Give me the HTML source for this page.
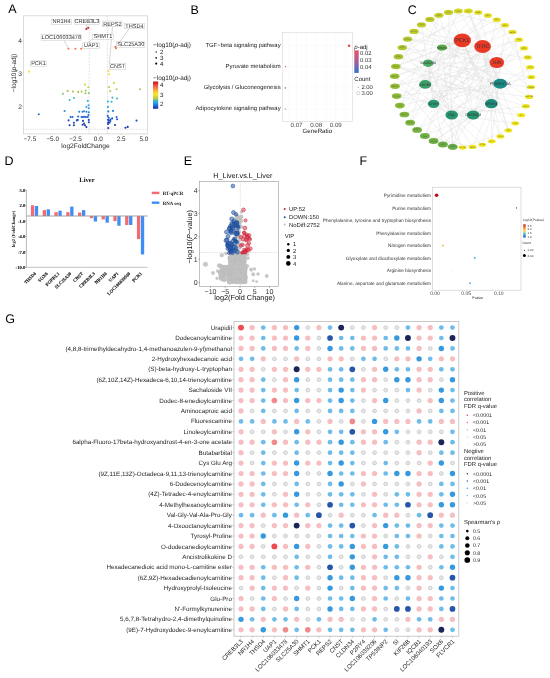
<!DOCTYPE html>
<html><head><meta charset="utf-8"><title>Figure</title>
<style>
html,body{margin:0;padding:0;background:#fff;width:550px;height:678px;overflow:hidden;}
svg{display:block;}
text{font-family:"Liberation Sans",Arial,sans-serif;text-rendering:geometricPrecision;}
</style></head><body>
<svg width="550" height="678" viewBox="0 0 550 678">
<rect width="550" height="678" fill="#fff"/>
<text x="8.30" y="13.20" font-size="12.5">A</text>
<text x="190.50" y="14.00" font-size="12.5">B</text>
<text x="407.80" y="13.60" font-size="12.5">C</text>
<text x="4.60" y="164.80" font-size="12.5">D</text>
<text x="183.80" y="164.80" font-size="12.5">E</text>
<text x="359.60" y="164.50" font-size="12.5">F</text>
<text x="5.30" y="322.80" font-size="12.5">G</text>
<rect x="23.5" y="15.8" width="124.0" height="118.10000000000001" fill="#fff" stroke="#d4d4d4" stroke-width="0.8"/>
<line x1="89.18" y1="15.8" x2="89.18" y2="133.9" stroke="#aaa" stroke-width="0.5" stroke-dasharray="1,1.3"/>
<line x1="107.42" y1="15.8" x2="107.42" y2="133.9" stroke="#aaa" stroke-width="0.5" stroke-dasharray="1,1.3"/>
<line x1="23.5" y1="129.26" x2="147.5" y2="129.26" stroke="#aaa" stroke-width="0.5" stroke-dasharray="1,1.3"/>
<text x="21.90" y="108.70" font-size="6.6" text-anchor="end" fill="#333">2</text>
<line x1="22.2" y1="106.40" x2="23.5" y2="106.40" stroke="#bbb" stroke-width="0.5"/>
<text x="21.90" y="76.00" font-size="6.6" text-anchor="end" fill="#333">3</text>
<line x1="22.2" y1="73.70" x2="23.5" y2="73.70" stroke="#bbb" stroke-width="0.5"/>
<text x="21.90" y="43.30" font-size="6.6" text-anchor="end" fill="#333">4</text>
<line x1="22.2" y1="41.00" x2="23.5" y2="41.00" stroke="#bbb" stroke-width="0.5"/>
<text x="29.90" y="140.70" font-size="6.4" text-anchor="middle" fill="#333">−7.5</text>
<line x1="29.90" y1="133.9" x2="29.90" y2="135.1" stroke="#bbb" stroke-width="0.5"/>
<text x="52.70" y="140.70" font-size="6.4" text-anchor="middle" fill="#333">−5.0</text>
<line x1="52.70" y1="133.9" x2="52.70" y2="135.1" stroke="#bbb" stroke-width="0.5"/>
<text x="75.50" y="140.70" font-size="6.4" text-anchor="middle" fill="#333">−2.5</text>
<line x1="75.50" y1="133.9" x2="75.50" y2="135.1" stroke="#bbb" stroke-width="0.5"/>
<text x="98.30" y="140.70" font-size="6.4" text-anchor="middle" fill="#333">0.0</text>
<line x1="98.30" y1="133.9" x2="98.30" y2="135.1" stroke="#bbb" stroke-width="0.5"/>
<text x="121.10" y="140.70" font-size="6.4" text-anchor="middle" fill="#333">2.5</text>
<line x1="121.10" y1="133.9" x2="121.10" y2="135.1" stroke="#bbb" stroke-width="0.5"/>
<text x="143.90" y="140.70" font-size="6.4" text-anchor="middle" fill="#333">5.0</text>
<line x1="143.90" y1="133.9" x2="143.90" y2="135.1" stroke="#bbb" stroke-width="0.5"/>
<text x="85.50" y="148.20" font-size="6.6" text-anchor="middle" fill="#222">log2FoldChange</text>
<text x="0.00" y="0.00" font-size="6.5" text-anchor="middle" fill="#222" transform="translate(16.0,73.0) rotate(-90)">−log10(<tspan font-style="italic">p</tspan>-adj)</text>
<circle cx="85.0" cy="84.6" r="1.05" fill="#cbd43f"/>
<circle cx="88.3" cy="87.3" r="1.05" fill="#bdcf45"/>
<circle cx="67.7" cy="90.9" r="1.05" fill="#acc94e"/>
<circle cx="73.0" cy="91.6" r="1.05" fill="#a8c850"/>
<circle cx="78.2" cy="91.9" r="1.05" fill="#a4c754"/>
<circle cx="81.6" cy="91.6" r="1.05" fill="#a8c850"/>
<circle cx="85.7" cy="90.6" r="1.05" fill="#adca4d"/>
<circle cx="85.4" cy="93.2" r="1.05" fill="#8dc36e"/>
<circle cx="88.8" cy="93.0" r="1.05" fill="#90c46a"/>
<circle cx="62.9" cy="93.8" r="1.05" fill="#82c179"/>
<circle cx="69.6" cy="100.0" r="1.05" fill="#3ab2d1"/>
<circle cx="73.9" cy="98.0" r="1.05" fill="#47b6be"/>
<circle cx="87.8" cy="100.9" r="1.05" fill="#34b1da"/>
<circle cx="88.6" cy="105.3" r="1.05" fill="#2ba2e2"/>
<circle cx="86.4" cy="107.0" r="1.05" fill="#299ce3"/>
<circle cx="88.8" cy="108.2" r="1.05" fill="#2897e4"/>
<circle cx="64.6" cy="111.0" r="1.05" fill="#2486df"/>
<circle cx="79.2" cy="111.7" r="1.05" fill="#2482dd"/>
<circle cx="82.6" cy="111.7" r="1.05" fill="#2482dd"/>
<circle cx="84.0" cy="111.3" r="1.05" fill="#2484de"/>
<circle cx="86.4" cy="111.7" r="1.05" fill="#2482dd"/>
<circle cx="88.8" cy="112.2" r="1.05" fill="#237fdc"/>
<circle cx="70.6" cy="117.0" r="1.05" fill="#2061cf"/>
<circle cx="72.5" cy="117.0" r="1.05" fill="#2061cf"/>
<circle cx="78.2" cy="116.5" r="1.05" fill="#2064d1"/>
<circle cx="81.6" cy="117.0" r="1.05" fill="#2061cf"/>
<circle cx="83.0" cy="117.0" r="1.05" fill="#2061cf"/>
<circle cx="84.5" cy="116.8" r="1.05" fill="#2062d0"/>
<circle cx="86.0" cy="117.0" r="1.05" fill="#2061cf"/>
<circle cx="87.8" cy="117.0" r="1.05" fill="#2061cf"/>
<circle cx="68.6" cy="120.4" r="1.05" fill="#204cc3"/>
<circle cx="76.8" cy="120.4" r="1.05" fill="#204cc3"/>
<circle cx="77.8" cy="119.9" r="1.05" fill="#204fc4"/>
<circle cx="83.0" cy="120.9" r="1.05" fill="#2049c1"/>
<circle cx="88.8" cy="119.9" r="1.05" fill="#204fc4"/>
<circle cx="88.8" cy="122.3" r="1.05" fill="#2044ba"/>
<circle cx="73.9" cy="122.8" r="1.05" fill="#2042b8"/>
<circle cx="69.6" cy="125.2" r="1.05" fill="#2039ac"/>
<circle cx="73.9" cy="125.2" r="1.05" fill="#2039ac"/>
<circle cx="82.6" cy="124.7" r="1.05" fill="#203bae"/>
<circle cx="85.0" cy="125.2" r="1.05" fill="#2039ac"/>
<circle cx="86.4" cy="127.1" r="1.05" fill="#2032a3"/>
<circle cx="84.0" cy="123.5" r="1.05" fill="#203fb4"/>
<circle cx="88.5" cy="115.0" r="1.05" fill="#206dd6"/>
<circle cx="38.8" cy="114.3" r="1.05" fill="#2072d9"/>
<circle cx="108.3" cy="71.3" r="1.05" fill="#f8de2a"/>
<circle cx="109.1" cy="74.2" r="1.05" fill="#f6e729"/>
<circle cx="113.8" cy="82.9" r="1.05" fill="#d3d63b"/>
<circle cx="109.1" cy="87.1" r="1.05" fill="#becf45"/>
<circle cx="116.6" cy="89.3" r="1.05" fill="#b4cc4a"/>
<circle cx="110.2" cy="91.0" r="1.05" fill="#abc94e"/>
<circle cx="140.0" cy="89.3" r="1.05" fill="#b4cc4a"/>
<circle cx="112.4" cy="97.6" r="1.05" fill="#49b6ba"/>
<circle cx="117.1" cy="98.5" r="1.05" fill="#44b5c3"/>
<circle cx="108.0" cy="101.5" r="1.05" fill="#30b0e0"/>
<circle cx="111.6" cy="101.8" r="1.05" fill="#30afe0"/>
<circle cx="108.0" cy="107.0" r="1.05" fill="#299ce3"/>
<circle cx="108.3" cy="111.4" r="1.05" fill="#2483de"/>
<circle cx="113.0" cy="110.9" r="1.05" fill="#2486df"/>
<circle cx="107.7" cy="115.9" r="1.05" fill="#2068d3"/>
<circle cx="116.6" cy="117.0" r="1.05" fill="#2061cf"/>
<circle cx="117.1" cy="119.2" r="1.05" fill="#2054c7"/>
<circle cx="112.2" cy="118.4" r="1.05" fill="#2059ca"/>
<circle cx="108.0" cy="119.8" r="1.05" fill="#2050c5"/>
<circle cx="109.0" cy="120.5" r="1.05" fill="#204cc2"/>
<circle cx="110.3" cy="121.0" r="1.05" fill="#2049c0"/>
<circle cx="108.2" cy="122.2" r="1.05" fill="#2044bb"/>
<circle cx="109.5" cy="122.8" r="1.05" fill="#2042b8"/>
<circle cx="108.0" cy="124.0" r="1.05" fill="#203db2"/>
<circle cx="110.5" cy="119.5" r="1.05" fill="#2052c6"/>
<circle cx="108.8" cy="117.8" r="1.05" fill="#205ccc"/>
<circle cx="136.5" cy="120.6" r="1.05" fill="#204bc2"/>
<circle cx="115.0" cy="125.0" r="1.05" fill="#203aad"/>
<circle cx="125.4" cy="127.7" r="1.05" fill="#2030a0"/>
<circle cx="127.7" cy="126.9" r="1.05" fill="#2033a4"/>
<circle cx="108.3" cy="128.0" r="1.05" fill="#2030a0"/>
<circle cx="68.4" cy="48.8" r="1.05" fill="#f47649"/>
<circle cx="75.4" cy="48.8" r="1.05" fill="#f47649"/>
<circle cx="81.1" cy="48.8" r="1.05" fill="#f47649"/>
<circle cx="86.4" cy="29.1" r="1.05" fill="#c61e22"/>
<circle cx="88.2" cy="27.8" r="1.05" fill="#c21a21"/>
<circle cx="115.4" cy="46.9" r="1.05" fill="#f26d4c"/>
<circle cx="116.0" cy="48.2" r="1.05" fill="#f3734a"/>
<circle cx="29.0" cy="71.6" r="1.05" fill="#f8df2a"/>
<line x1="64" y1="40.4" x2="68.4" y2="48.3" stroke="#888" stroke-width="0.35"/>
<line x1="86.5" y1="24.3" x2="86.6" y2="28.5" stroke="#888" stroke-width="0.35"/>
<line x1="92.7" y1="38.5" x2="82" y2="48.3" stroke="#888" stroke-width="0.35"/>
<line x1="112.5" y1="26.8" x2="109.4" y2="63.5" stroke="#888" stroke-width="0.35"/>
<line x1="129" y1="28.8" x2="116.5" y2="46.5" stroke="#888" stroke-width="0.35"/>
<line x1="60" y1="24.3" x2="60" y2="24.3" stroke="#888" stroke-width="0.35"/>
<rect x="51.6" y="19.2" width="19.90" height="5.10" fill="#fff" fill-opacity="0.85" stroke="#bbb" stroke-width="0.4"/>
<text x="61.55" y="23.20" font-size="5.6" text-anchor="middle" fill="#333">NR1H4</text>
<rect x="74.1" y="19.2" width="25.60" height="5.10" fill="#fff" fill-opacity="0.85" stroke="#bbb" stroke-width="0.4"/>
<text x="86.90" y="23.20" font-size="5.6" text-anchor="middle" fill="#333">CREB3L3</text>
<rect x="41.0" y="34.8" width="40.70" height="5.60" fill="#fff" fill-opacity="0.85" stroke="#bbb" stroke-width="0.4"/>
<text x="61.35" y="39.30" font-size="5.6" text-anchor="middle" fill="#333">LOC106033478</text>
<rect x="30.2" y="60.9" width="16.50" height="5.50" fill="#fff" fill-opacity="0.85" stroke="#bbb" stroke-width="0.4"/>
<text x="38.45" y="65.30" font-size="5.6" text-anchor="middle" fill="#333">PCK1</text>
<rect x="102.7" y="21.0" width="19.30" height="5.80" fill="#fff" fill-opacity="0.85" stroke="#bbb" stroke-width="0.4"/>
<text x="112.35" y="25.70" font-size="5.6" text-anchor="middle" fill="#333">REPS2</text>
<rect x="124.5" y="23.4" width="19.80" height="5.40" fill="#fff" fill-opacity="0.85" stroke="#bbb" stroke-width="0.4"/>
<text x="134.40" y="27.70" font-size="5.6" text-anchor="middle" fill="#333">THSD4</text>
<rect x="92.7" y="34.2" width="20.60" height="5.30" fill="#fff" fill-opacity="0.85" stroke="#bbb" stroke-width="0.4"/>
<text x="103.00" y="38.40" font-size="5.6" text-anchor="middle" fill="#333">SHMT1</text>
<rect x="82.8" y="42.8" width="16.90" height="5.40" fill="#fff" fill-opacity="0.85" stroke="#bbb" stroke-width="0.4"/>
<text x="91.25" y="47.10" font-size="5.6" text-anchor="middle" fill="#333">UAP1</text>
<rect x="116.7" y="41.8" width="28.20" height="5.70" fill="#fff" fill-opacity="0.85" stroke="#bbb" stroke-width="0.4"/>
<text x="130.80" y="46.40" font-size="5.6" text-anchor="middle" fill="#333">SLC25A30</text>
<rect x="109.5" y="63.5" width="16.30" height="5.70" fill="#fff" fill-opacity="0.85" stroke="#bbb" stroke-width="0.4"/>
<text x="117.65" y="68.10" font-size="5.6" text-anchor="middle" fill="#333">CNST</text>
<text x="153.00" y="46.60" font-size="6.4" fill="#222">−log10(<tspan font-style="italic">p</tspan>-adj)</text>
<circle cx="156.2" cy="52.0" r="0.65" fill="#000"/>
<text x="160.00" y="54.10" font-size="6.2" fill="#222">2</text>
<circle cx="156.2" cy="57.8" r="0.85" fill="#000"/>
<text x="160.00" y="59.90" font-size="6.2" fill="#222">3</text>
<circle cx="156.2" cy="63.6" r="1.05" fill="#000"/>
<text x="160.00" y="65.70" font-size="6.2" fill="#222">4</text>
<text x="153.00" y="79.60" font-size="6.4" fill="#222">−log10(<tspan font-style="italic">p</tspan>-adj)</text>
<defs><linearGradient id="gA" x1="0" y1="1" x2="0" y2="0"><stop offset="0.000" stop-color="#2030a0"/><stop offset="0.065" stop-color="#2048c0"/><stop offset="0.130" stop-color="#2070d8"/><stop offset="0.195" stop-color="#2898e4"/><stop offset="0.261" stop-color="#30b0e0"/><stop offset="0.309" stop-color="#50b8b0"/><stop offset="0.358" stop-color="#a8c850"/><stop offset="0.456" stop-color="#d8d838"/><stop offset="0.537" stop-color="#f8e828"/><stop offset="0.635" stop-color="#f8c030"/><stop offset="0.733" stop-color="#f89040"/><stop offset="0.831" stop-color="#f06050"/><stop offset="0.928" stop-color="#d83028"/><stop offset="1.000" stop-color="#c01820"/></linearGradient><linearGradient id="gB" x1="0" y1="0" x2="0" y2="1"><stop offset="0" stop-color="#ec5064"/><stop offset="0.5" stop-color="#a4609a"/><stop offset="1" stop-color="#2f74d0"/></linearGradient><linearGradient id="gF" x1="0" y1="0" x2="0" y2="1"><stop offset="0" stop-color="#d02020"/><stop offset="0.3" stop-color="#f89030"/><stop offset="0.5" stop-color="#f8e040"/><stop offset="0.75" stop-color="#40b8e8"/><stop offset="1" stop-color="#2040b0"/></linearGradient></defs>
<rect x="153.0" y="81.5" width="5.2" height="27.3" fill="url(#gA)"/>
<text x="160.00" y="87.40" font-size="6.2" fill="#222">4</text>
<text x="160.00" y="96.60" font-size="6.2" fill="#222">3</text>
<text x="160.00" y="105.70" font-size="6.2" fill="#222">2</text>
<rect x="282.5" y="32.6" width="70.0" height="88.80000000000001" fill="#fff" stroke="#d8d8d8" stroke-width="0.6"/>
<line x1="296.5" y1="32.6" x2="296.5" y2="121.4" stroke="#f2f2f2" stroke-width="0.4"/>
<line x1="316.2" y1="32.6" x2="316.2" y2="121.4" stroke="#f2f2f2" stroke-width="0.4"/>
<line x1="335.8" y1="32.6" x2="335.8" y2="121.4" stroke="#f2f2f2" stroke-width="0.4"/>
<line x1="289.2" y1="32.6" x2="289.2" y2="121.4" stroke="#f2f2f2" stroke-width="0.4"/>
<line x1="306.4" y1="32.6" x2="306.4" y2="121.4" stroke="#f2f2f2" stroke-width="0.4"/>
<line x1="326" y1="32.6" x2="326" y2="121.4" stroke="#f2f2f2" stroke-width="0.4"/>
<line x1="345.6" y1="32.6" x2="345.6" y2="121.4" stroke="#f2f2f2" stroke-width="0.4"/>
<line x1="282.5" y1="45.6" x2="352.5" y2="45.6" stroke="#f2f2f2" stroke-width="0.4"/>
<text x="280.60" y="46.60" font-size="5.9" text-anchor="end" fill="#1a1a1a">TGF−beta signaling pathway</text>
<line x1="282.5" y1="66.6" x2="352.5" y2="66.6" stroke="#f2f2f2" stroke-width="0.4"/>
<text x="280.60" y="67.60" font-size="5.9" text-anchor="end" fill="#1a1a1a">Pyruvate metabolism</text>
<line x1="282.5" y1="87.9" x2="352.5" y2="87.9" stroke="#f2f2f2" stroke-width="0.4"/>
<text x="280.60" y="88.90" font-size="5.9" text-anchor="end" fill="#1a1a1a">Glycolysis / Gluconeogenesis</text>
<line x1="282.5" y1="109.0" x2="352.5" y2="109.0" stroke="#f2f2f2" stroke-width="0.4"/>
<text x="280.60" y="110.00" font-size="5.9" text-anchor="end" fill="#1a1a1a">Adipocytokine signaling pathway</text>
<circle cx="349.0" cy="45.8" r="1.25" fill="#e2454f"/>
<circle cx="285.5" cy="66.6" r="0.6" fill="#d04050"/>
<circle cx="285.3" cy="87.9" r="0.6" fill="#555"/>
<circle cx="285.3" cy="109.0" r="0.6" fill="#3a70c8"/>
<text x="296.50" y="127.30" font-size="6.2" text-anchor="middle" fill="#4d4d4d">0.07</text>
<text x="316.20" y="127.30" font-size="6.2" text-anchor="middle" fill="#4d4d4d">0.08</text>
<text x="335.80" y="127.30" font-size="6.2" text-anchor="middle" fill="#4d4d4d">0.09</text>
<text x="317.30" y="133.40" font-size="6.2" text-anchor="middle" fill="#222">GeneRatio</text>
<text x="354.30" y="48.60" font-size="6.0" fill="#222"><tspan font-style="italic">p</tspan>-adj</text>
<rect x="354.3" y="50.4" width="4.4" height="22.5" fill="url(#gB)"/>
<text x="360.00" y="55.30" font-size="5.9" fill="#333">0.02</text>
<text x="360.00" y="61.90" font-size="5.9" fill="#333">0.03</text>
<text x="360.00" y="68.50" font-size="5.9" fill="#333">0.04</text>
<text x="354.30" y="81.20" font-size="6.0" fill="#222">Count</text>
<circle cx="358.3" cy="87.3" r="0.75" fill="#bbb"/>
<circle cx="358.2" cy="93.1" r="1.7" fill="none" stroke="#999" stroke-width="0.4"/>
<text x="361.40" y="89.30" font-size="5.9" fill="#333">2.00</text>
<text x="361.40" y="95.10" font-size="5.9" fill="#333">3.00</text>
<path d="M462.3 40.4L482.6 46.5M462.3 40.4L491.3 103.7M462.3 40.4L473.2 115.0M462.3 40.4L433.6 103.8M462.3 40.4L425.2 84.4M482.6 46.5L496.8 62.5M482.6 46.5L500.2 83.8M482.6 46.5L491.3 103.7M482.6 46.5L433.6 103.8M496.8 62.5L491.3 103.7M496.8 62.5L473.2 115.0M496.8 62.5L451.7 115.0M496.8 62.5L433.6 103.8M496.8 62.5L425.2 84.4M496.8 62.5L428.1 63.2M496.8 62.5L442.0 47.5M500.2 83.8L491.3 103.7M500.2 83.8L473.2 115.0M500.2 83.8L433.6 103.8M500.2 83.8L428.1 63.2M491.3 103.7L473.2 115.0M491.3 103.7L451.7 115.0M473.2 115.0L451.7 115.0M473.2 115.0L433.6 103.8M473.2 115.0L425.2 84.4M473.2 115.0L428.1 63.2M451.7 115.0L433.6 103.8M451.7 115.0L428.1 63.2M433.6 103.8L428.1 63.2M433.6 103.8L442.0 47.5M425.2 84.4L442.0 47.5M452.7 146.8L451.7 115.0M452.7 146.8L442.0 47.5M452.7 146.8L482.6 46.5M442.9 144.6L428.1 63.2M442.9 144.6L500.2 83.8M442.9 144.6L491.3 103.7M433.6 141.0L473.2 115.0M433.6 141.0L482.6 46.5M433.6 141.0L491.3 103.7M424.9 136.0L473.2 115.0M424.9 136.0L462.3 40.4M424.9 136.0L451.7 115.0M417.1 129.9L482.6 46.5M417.1 129.9L496.8 62.5M417.1 129.9L500.2 83.8M410.2 122.7L482.6 46.5M410.2 122.7L462.3 40.4M410.2 122.7L428.1 63.2M404.4 114.5L433.6 103.8M404.4 114.5L442.0 47.5M404.4 114.5L496.8 62.5M399.9 105.6L442.0 47.5M399.9 105.6L425.2 84.4M399.9 105.6L500.2 83.8M396.7 96.1L433.6 103.8M396.7 96.1L425.2 84.4M396.7 96.1L500.2 83.8M395.0 86.3L496.8 62.5M395.0 86.3L451.7 115.0M395.0 86.3L428.1 63.2M394.7 76.3L482.6 46.5M394.7 76.3L451.7 115.0M394.7 76.3L428.1 63.2M395.8 66.4L500.2 83.8M395.8 66.4L462.3 40.4M395.8 66.4L491.3 103.7M398.4 56.7L428.1 63.2M398.4 56.7L491.3 103.7M398.4 56.7L462.3 40.4M402.3 47.6L500.2 83.8M402.3 47.6L496.8 62.5M402.3 47.6L451.7 115.0M407.6 39.1L428.1 63.2M407.6 39.1L442.0 47.5M407.6 39.1L482.6 46.5M414.0 31.4L462.3 40.4M414.0 31.4L496.8 62.5M421.5 24.8L500.2 83.8M421.5 24.8L433.6 103.8M429.9 19.4L491.3 103.7M429.9 19.4L462.3 40.4M438.9 15.2L428.1 63.2M438.9 15.2L473.2 115.0M448.5 12.4L491.3 103.7M448.5 12.4L451.7 115.0M458.4 11.0L482.6 46.5M458.4 11.0L442.0 47.5M468.4 11.0L482.6 46.5M468.4 11.0L500.2 83.8M478.3 12.5L428.1 63.2M478.3 12.5L500.2 83.8M487.8 15.5L462.3 40.4M487.8 15.5L428.1 63.2M496.8 19.7L473.2 115.0M496.8 19.7L442.0 47.5M505.1 25.3L428.1 63.2M505.1 25.3L433.6 103.8M512.5 32.0L496.8 62.5M512.5 32.0L428.1 63.2M518.9 39.7L433.6 103.8M518.9 39.7L428.1 63.2M524.0 48.3L496.8 62.5M524.0 48.3L451.7 115.0M527.9 57.5L496.8 62.5M527.9 57.5L442.0 47.5M530.3 67.2L491.3 103.7M530.3 67.2L500.2 83.8M531.4 77.1L428.1 63.2M531.4 77.1L500.2 83.8M530.9 87.1L500.2 83.8M530.9 87.1L496.8 62.5M529.1 96.9L442.0 47.5M529.1 96.9L425.2 84.4M525.8 106.3L500.2 83.8M525.8 106.3L451.7 115.0M521.2 115.2L433.6 103.8M521.2 115.2L428.1 63.2M515.3 123.3L482.6 46.5M515.3 123.3L451.7 115.0M508.4 130.4L462.3 40.4M508.4 130.4L482.6 46.5M500.4 136.5L482.6 46.5M500.4 136.5L462.3 40.4M491.7 141.3L425.2 84.4M491.7 141.3L491.3 103.7M482.3 144.8L500.2 83.8M482.3 144.8L451.7 115.0M472.6 146.9L491.3 103.7M472.6 146.9L451.7 115.0M462.6 147.6L428.1 63.2M462.6 147.6L433.6 103.8M452.7 146.8L394.7 76.3M424.9 136.0L487.8 15.5M399.9 105.6L438.9 15.2M395.0 86.3L518.9 39.7M394.7 76.3L421.5 24.8M395.8 66.4L505.1 25.3M398.4 56.7L468.4 11.0M402.3 47.6L478.3 12.5M448.5 12.4L505.1 25.3M468.4 11.0L508.4 130.4M496.8 19.7L531.4 77.1M505.1 25.3L491.7 141.3M512.5 32.0L529.1 96.9M518.9 39.7L452.7 146.8M525.8 106.3L395.8 66.4M508.4 130.4L462.6 147.6M472.6 146.9L424.9 136.0" stroke="#d4d4d4" stroke-width="0.3" fill="none"/>
<ellipse cx="452.7" cy="146.8" rx="5.00" ry="3.00" fill="#66ac46"/>
<text x="452.65" y="147.41" font-size="1.7" text-anchor="middle" fill="#555">PPARA</text>
<ellipse cx="442.9" cy="144.6" rx="4.98" ry="2.98" fill="#6aad45"/>
<text x="442.92" y="145.19" font-size="1.7" text-anchor="middle" fill="#555">SIRT1</text>
<ellipse cx="433.6" cy="141.0" rx="4.96" ry="2.95" fill="#6eaf43"/>
<text x="433.61" y="141.57" font-size="1.7" text-anchor="middle" fill="#555">ACACA</text>
<ellipse cx="424.9" cy="136.0" rx="4.94" ry="2.93" fill="#72b042"/>
<text x="424.93" y="136.63" font-size="1.7" text-anchor="middle" fill="#555">FASN</text>
<ellipse cx="417.1" cy="129.9" rx="4.92" ry="2.90" fill="#78b340"/>
<text x="417.06" y="130.48" font-size="1.7" text-anchor="middle" fill="#555">SREBF1</text>
<ellipse cx="410.2" cy="122.7" rx="4.90" ry="2.88" fill="#7eb53e"/>
<text x="410.17" y="123.25" font-size="1.7" text-anchor="middle" fill="#555">INSIG1</text>
<ellipse cx="404.4" cy="114.5" rx="4.89" ry="2.86" fill="#84b83c"/>
<text x="404.41" y="115.10" font-size="1.7" text-anchor="middle" fill="#555">HMGCR</text>
<ellipse cx="399.9" cy="105.6" rx="4.87" ry="2.83" fill="#89b939"/>
<text x="399.90" y="106.19" font-size="1.7" text-anchor="middle" fill="#555">LDLR</text>
<ellipse cx="396.7" cy="96.1" rx="4.85" ry="2.81" fill="#8dbb37"/>
<text x="396.73" y="96.72" font-size="1.7" text-anchor="middle" fill="#555">CYP7A1</text>
<ellipse cx="395.0" cy="86.3" rx="4.83" ry="2.79" fill="#92bc34"/>
<text x="394.97" y="86.89" font-size="1.7" text-anchor="middle" fill="#555">ABCG5</text>
<ellipse cx="394.7" cy="76.3" rx="4.81" ry="2.76" fill="#99bf33"/>
<text x="394.66" y="76.91" font-size="1.7" text-anchor="middle" fill="#555">ABCG8</text>
<ellipse cx="395.8" cy="66.4" rx="4.79" ry="2.74" fill="#9fc131"/>
<text x="395.81" y="66.99" font-size="1.7" text-anchor="middle" fill="#555">APOA1</text>
<ellipse cx="398.4" cy="56.7" rx="4.77" ry="2.71" fill="#a6c430"/>
<text x="398.39" y="57.34" font-size="1.7" text-anchor="middle" fill="#555">APOB</text>
<ellipse cx="402.3" cy="47.6" rx="4.75" ry="2.69" fill="#adc72f"/>
<text x="402.35" y="48.18" font-size="1.7" text-anchor="middle" fill="#555">MTTP</text>
<ellipse cx="407.6" cy="39.1" rx="4.73" ry="2.67" fill="#b5c92d"/>
<text x="407.60" y="39.68" font-size="1.7" text-anchor="middle" fill="#555">CPT1A</text>
<ellipse cx="414.0" cy="31.4" rx="4.71" ry="2.64" fill="#bccc2c"/>
<text x="414.03" y="32.04" font-size="1.7" text-anchor="middle" fill="#555">ACOX1</text>
<ellipse cx="421.5" cy="24.8" rx="4.70" ry="2.62" fill="#bfcd2c"/>
<text x="421.51" y="25.42" font-size="1.7" text-anchor="middle" fill="#555">PDK4</text>
<ellipse cx="429.9" cy="19.4" rx="4.68" ry="2.60" fill="#c2ce2b"/>
<text x="429.87" y="19.96" font-size="1.7" text-anchor="middle" fill="#555">FOXO1</text>
<ellipse cx="438.9" cy="15.2" rx="4.66" ry="2.57" fill="#c5cf2a"/>
<text x="438.93" y="15.77" font-size="1.7" text-anchor="middle" fill="#555">G6PC</text>
<ellipse cx="448.5" cy="12.4" rx="4.64" ry="2.55" fill="#c8d02a"/>
<text x="448.51" y="12.95" font-size="1.7" text-anchor="middle" fill="#555">PCK2</text>
<ellipse cx="458.4" cy="11.0" rx="4.62" ry="2.52" fill="#d2d627"/>
<text x="458.40" y="11.56" font-size="1.7" text-anchor="middle" fill="#555">GCK</text>
<ellipse cx="468.4" cy="11.0" rx="4.60" ry="2.50" fill="#dcdc24"/>
<text x="468.38" y="11.61" font-size="1.7" text-anchor="middle" fill="#555">PKLR</text>
<ellipse cx="478.3" cy="12.5" rx="4.10" ry="2.30" fill="#dfdd23"/>
<text x="478.25" y="13.12" font-size="1.7" text-anchor="middle" fill="#555">INSR</text>
<ellipse cx="487.8" cy="15.5" rx="4.09" ry="2.29" fill="#e1df21"/>
<text x="487.80" y="16.05" font-size="1.7" text-anchor="middle" fill="#555">IRS1</text>
<ellipse cx="496.8" cy="19.7" rx="4.08" ry="2.28" fill="#e4e020"/>
<text x="496.82" y="20.34" font-size="1.7" text-anchor="middle" fill="#555">IRS2</text>
<ellipse cx="505.1" cy="25.3" rx="4.07" ry="2.27" fill="#e5e11f"/>
<text x="505.11" y="25.90" font-size="1.7" text-anchor="middle" fill="#555">AKT2</text>
<ellipse cx="512.5" cy="32.0" rx="4.06" ry="2.26" fill="#e7e11f"/>
<text x="512.51" y="32.61" font-size="1.7" text-anchor="middle" fill="#555">MAPK8</text>
<ellipse cx="518.9" cy="39.7" rx="4.05" ry="2.25" fill="#e8e21e"/>
<text x="518.86" y="40.32" font-size="1.7" text-anchor="middle" fill="#555">FOS</text>
<ellipse cx="524.0" cy="48.3" rx="4.04" ry="2.24" fill="#e9e31d"/>
<text x="524.01" y="48.87" font-size="1.7" text-anchor="middle" fill="#555">ATF3</text>
<ellipse cx="527.9" cy="57.5" rx="4.03" ry="2.23" fill="#ebe31d"/>
<text x="527.86" y="58.09" font-size="1.7" text-anchor="middle" fill="#555">EGR1</text>
<ellipse cx="530.3" cy="67.2" rx="4.02" ry="2.22" fill="#ece41c"/>
<text x="530.33" y="67.76" font-size="1.7" text-anchor="middle" fill="#555">KLF6</text>
<ellipse cx="531.4" cy="77.1" rx="4.01" ry="2.21" fill="#ece41c"/>
<text x="531.37" y="77.69" font-size="1.7" text-anchor="middle" fill="#555">MYC</text>
<ellipse cx="530.9" cy="87.1" rx="4.00" ry="2.20" fill="#ede41b"/>
<text x="530.95" y="87.67" font-size="1.7" text-anchor="middle" fill="#555">CDKN1A</text>
<ellipse cx="529.1" cy="96.9" rx="3.99" ry="2.19" fill="#eee41b"/>
<text x="529.08" y="97.48" font-size="1.7" text-anchor="middle" fill="#555">GADD45B</text>
<ellipse cx="525.8" cy="106.3" rx="3.98" ry="2.18" fill="#eee51b"/>
<text x="525.80" y="106.91" font-size="1.7" text-anchor="middle" fill="#555">SOCS3</text>
<ellipse cx="521.2" cy="115.2" rx="3.97" ry="2.17" fill="#eee51a"/>
<text x="521.18" y="115.77" font-size="1.7" text-anchor="middle" fill="#555">IL6</text>
<ellipse cx="515.3" cy="123.3" rx="3.96" ry="2.16" fill="#efe51a"/>
<text x="515.32" y="123.85" font-size="1.7" text-anchor="middle" fill="#555">IL1B</text>
<ellipse cx="508.4" cy="130.4" rx="3.95" ry="2.15" fill="#f0e51a"/>
<text x="508.35" y="131.00" font-size="1.7" text-anchor="middle" fill="#555">TNF</text>
<ellipse cx="500.4" cy="136.5" rx="3.94" ry="2.14" fill="#f0e519"/>
<text x="500.41" y="137.06" font-size="1.7" text-anchor="middle" fill="#555">CXCL8</text>
<ellipse cx="491.7" cy="141.3" rx="3.93" ry="2.13" fill="#f0e619"/>
<text x="491.68" y="141.90" font-size="1.7" text-anchor="middle" fill="#555">CCL2</text>
<ellipse cx="482.3" cy="144.8" rx="3.92" ry="2.12" fill="#f1e619"/>
<text x="482.33" y="145.41" font-size="1.7" text-anchor="middle" fill="#555">TGFB1</text>
<ellipse cx="472.6" cy="146.9" rx="3.91" ry="2.11" fill="#f2e618"/>
<text x="472.57" y="147.53" font-size="1.7" text-anchor="middle" fill="#555">SMAD3</text>
<ellipse cx="462.6" cy="147.6" rx="3.90" ry="2.10" fill="#f2e618"/>
<text x="462.61" y="148.20" font-size="1.7" text-anchor="middle" fill="#555">COL1A1</text>
<ellipse cx="462.3" cy="40.4" rx="8.7" ry="6.8" fill="#ea3a26"/>
<text x="462.30" y="42.34" font-size="5.4" text-anchor="middle" fill="#333">PCK1</text>
<ellipse cx="482.6" cy="46.5" rx="8.4" ry="6.4" fill="#ea3a26"/>
<text x="482.60" y="48.37" font-size="5.2" text-anchor="middle" fill="#333">TFRC</text>
<ellipse cx="496.8" cy="62.5" rx="7.3" ry="5.5" fill="#e83a26"/>
<text x="496.80" y="64.16" font-size="4.6" text-anchor="middle" fill="#333">JUN</text>
<ellipse cx="500.2" cy="83.8" rx="6.9" ry="5.0" fill="#1a8a84"/>
<text x="500.20" y="85.20" font-size="3.9" text-anchor="middle" fill="#333">PPARGC1A</text>
<ellipse cx="491.3" cy="103.7" rx="6.4" ry="4.6" fill="#1e8c78"/>
<text x="491.30" y="105.00" font-size="3.6" text-anchor="middle" fill="#333">NR1H4</text>
<ellipse cx="473.2" cy="115.0" rx="6.4" ry="4.6" fill="#26946e"/>
<text x="473.20" y="116.30" font-size="3.6" text-anchor="middle" fill="#333">CREB3L3</text>
<ellipse cx="451.7" cy="115.0" rx="6.3" ry="4.5" fill="#28946e"/>
<text x="451.70" y="116.30" font-size="3.6" text-anchor="middle" fill="#333">HAL</text>
<ellipse cx="433.6" cy="103.8" rx="5.8" ry="4.1" fill="#2a9870"/>
<text x="433.60" y="105.02" font-size="3.4" text-anchor="middle" fill="#333">CHDH</text>
<ellipse cx="425.2" cy="84.4" rx="6.0" ry="4.3" fill="#3aa068"/>
<text x="425.20" y="85.62" font-size="3.4" text-anchor="middle" fill="#333">CDHR5</text>
<ellipse cx="428.1" cy="63.2" rx="5.2" ry="3.7" fill="#4aa860"/>
<text x="428.10" y="64.39" font-size="3.3" text-anchor="middle" fill="#333">SLC25A30</text>
<ellipse cx="442.0" cy="47.5" rx="5.0" ry="3.1" fill="#58a848"/>
<text x="442.00" y="48.58" font-size="3.0" text-anchor="middle" fill="#333">SHMT1</text>
<line x1="26.4" y1="189.85" x2="26.4" y2="267.30" stroke="#888" stroke-width="0.6"/>
<line x1="26.4" y1="267.30" x2="147.6" y2="267.30" stroke="#999" stroke-width="0.6"/>
<line x1="25.2" y1="190.35" x2="26.4" y2="190.35" stroke="#888" stroke-width="0.5"/>
<text x="25.20" y="191.95" font-size="4.6" text-anchor="end" fill="#111" style='font-family:"Liberation Serif", "Times New Roman", serif' font-weight="bold" stroke="#111" stroke-width="0.1">5.0</text>
<line x1="25.2" y1="205.74" x2="26.4" y2="205.74" stroke="#888" stroke-width="0.5"/>
<text x="25.20" y="207.34" font-size="4.6" text-anchor="end" fill="#111" style='font-family:"Liberation Serif", "Times New Roman", serif' font-weight="bold" stroke="#111" stroke-width="0.1">2.0</text>
<line x1="25.2" y1="221.13" x2="26.4" y2="221.13" stroke="#888" stroke-width="0.5"/>
<text x="25.20" y="222.73" font-size="4.6" text-anchor="end" fill="#111" style='font-family:"Liberation Serif", "Times New Roman", serif' font-weight="bold" stroke="#111" stroke-width="0.1">-1.0</text>
<line x1="25.2" y1="236.52" x2="26.4" y2="236.52" stroke="#888" stroke-width="0.5"/>
<text x="25.20" y="238.12" font-size="4.6" text-anchor="end" fill="#111" style='font-family:"Liberation Serif", "Times New Roman", serif' font-weight="bold" stroke="#111" stroke-width="0.1">-4.0</text>
<line x1="25.2" y1="251.91" x2="26.4" y2="251.91" stroke="#888" stroke-width="0.5"/>
<text x="25.20" y="253.51" font-size="4.6" text-anchor="end" fill="#111" style='font-family:"Liberation Serif", "Times New Roman", serif' font-weight="bold" stroke="#111" stroke-width="0.1">-7.0</text>
<line x1="25.2" y1="267.30" x2="26.4" y2="267.30" stroke="#888" stroke-width="0.5"/>
<text x="25.20" y="268.90" font-size="4.6" text-anchor="end" fill="#111" style='font-family:"Liberation Serif", "Times New Roman", serif' font-weight="bold" stroke="#111" stroke-width="0.1">-10.0</text>
<text x="0.00" y="0.00" font-size="4.6" text-anchor="middle" fill="#222" style='font-family:"Liberation Serif", "Times New Roman", serif' font-weight="bold" transform="translate(14.6,229) rotate(-90)">log2 (FoldChange)</text>
<text x="87.00" y="182.30" font-size="6.6" text-anchor="middle" fill="#111" style='font-family:"Liberation Serif", "Times New Roman", serif' font-weight="bold">Liver</text>
<rect x="30.90" y="205.23" width="3.3" height="10.77" fill="#f46b6f"/>
<rect x="34.85" y="206.00" width="3.3" height="10.00" fill="#3d8ef5"/>
<text x="0.00" y="0.00" font-size="4.6" text-anchor="end" fill="#111" style='font-family:"Liberation Serif", "Times New Roman", serif' font-weight="bold" stroke="#111" stroke-width="0.12" transform="translate(36.40,273.90) rotate(-45)">THSD4</text>
<rect x="42.68" y="210.10" width="3.3" height="5.90" fill="#f46b6f"/>
<rect x="46.63" y="209.33" width="3.3" height="6.67" fill="#3d8ef5"/>
<text x="0.00" y="0.00" font-size="4.6" text-anchor="end" fill="#111" style='font-family:"Liberation Serif", "Times New Roman", serif' font-weight="bold" stroke="#111" stroke-width="0.12" transform="translate(48.18,273.90) rotate(-45)">SOX6</text>
<rect x="54.46" y="212.15" width="3.3" height="3.85" fill="#f46b6f"/>
<rect x="58.41" y="210.72" width="3.3" height="5.28" fill="#3d8ef5"/>
<text x="0.00" y="0.00" font-size="4.6" text-anchor="end" fill="#111" style='font-family:"Liberation Serif", "Times New Roman", serif' font-weight="bold" stroke="#111" stroke-width="0.12" transform="translate(59.96,273.90) rotate(-45)">FGFRL1</text>
<rect x="66.24" y="212.15" width="3.3" height="3.85" fill="#f46b6f"/>
<rect x="70.19" y="206.61" width="3.3" height="9.39" fill="#3d8ef5"/>
<text x="0.00" y="0.00" font-size="4.6" text-anchor="end" fill="#111" style='font-family:"Liberation Serif", "Times New Roman", serif' font-weight="bold" stroke="#111" stroke-width="0.12" transform="translate(71.74,273.90) rotate(-45)">SLC25A30</text>
<rect x="78.02" y="212.51" width="3.3" height="3.49" fill="#f46b6f"/>
<rect x="81.97" y="210.10" width="3.3" height="5.90" fill="#3d8ef5"/>
<text x="0.00" y="0.00" font-size="4.6" text-anchor="end" fill="#111" style='font-family:"Liberation Serif", "Times New Roman", serif' font-weight="bold" stroke="#111" stroke-width="0.12" transform="translate(83.52,273.90) rotate(-45)">CNST</text>
<rect x="89.80" y="216.00" width="3.3" height="2.21" fill="#f46b6f"/>
<rect x="93.75" y="216.00" width="3.3" height="5.49" fill="#3d8ef5"/>
<text x="0.00" y="0.00" font-size="4.6" text-anchor="end" fill="#111" style='font-family:"Liberation Serif", "Times New Roman", serif' font-weight="bold" stroke="#111" stroke-width="0.12" transform="translate(95.30,273.90) rotate(-45)">CREB3L3</text>
<rect x="101.58" y="216.00" width="3.3" height="3.39" fill="#f46b6f"/>
<rect x="105.53" y="216.00" width="3.3" height="6.67" fill="#3d8ef5"/>
<text x="0.00" y="0.00" font-size="4.6" text-anchor="end" fill="#111" style='font-family:"Liberation Serif", "Times New Roman", serif' font-weight="bold" stroke="#111" stroke-width="0.12" transform="translate(107.08,273.90) rotate(-45)">NR1H4</text>
<rect x="113.36" y="216.00" width="3.3" height="5.13" fill="#f46b6f"/>
<rect x="117.31" y="216.00" width="3.3" height="9.70" fill="#3d8ef5"/>
<text x="0.00" y="0.00" font-size="4.6" text-anchor="end" fill="#111" style='font-family:"Liberation Serif", "Times New Roman", serif' font-weight="bold" stroke="#111" stroke-width="0.12" transform="translate(118.86,273.90) rotate(-45)">UAP1</text>
<rect x="125.14" y="216.00" width="3.3" height="8.98" fill="#f46b6f"/>
<rect x="129.09" y="216.00" width="3.3" height="8.98" fill="#3d8ef5"/>
<text x="0.00" y="0.00" font-size="4.6" text-anchor="end" fill="#111" style='font-family:"Liberation Serif", "Times New Roman", serif' font-weight="bold" stroke="#111" stroke-width="0.12" transform="translate(130.64,273.90) rotate(-45)">LOC106039940</text>
<rect x="136.92" y="216.00" width="3.3" height="23.09" fill="#f46b6f"/>
<rect x="140.87" y="216.00" width="3.3" height="38.47" fill="#3d8ef5"/>
<text x="0.00" y="0.00" font-size="4.6" text-anchor="end" fill="#111" style='font-family:"Liberation Serif", "Times New Roman", serif' font-weight="bold" stroke="#111" stroke-width="0.12" transform="translate(142.42,273.90) rotate(-45)">PCK1</text>
<line x1="26.4" y1="216.0" x2="147.6" y2="216.0" stroke="#999" stroke-width="0.9"/>
<rect x="151.8" y="191.7" width="7.6" height="2.4" fill="#f46b6f"/>
<rect x="151.8" y="201.5" width="7.6" height="2.4" fill="#3d8ef5"/>
<text x="162.70" y="194.80" font-size="4.9" fill="#222" style='font-family:"Liberation Serif", "Times New Roman", serif' font-weight="bold">RT-qPCR</text>
<text x="162.70" y="204.60" font-size="4.9" fill="#222" style='font-family:"Liberation Serif", "Times New Roman", serif' font-weight="bold">RNA seq</text>
<rect x="199.6" y="181.4" width="78.70000000000002" height="105.20000000000002" fill="#fff" stroke="#999" stroke-width="0.6"/>
<text x="242.80" y="178.40" font-size="7.2" text-anchor="middle" fill="#111">H_Liver.vs.L_Liver</text>
<text x="197.60" y="284.70" font-size="7.0" text-anchor="end" fill="#333">0</text>
<line x1="198.29999999999998" y1="282.30" x2="199.6" y2="282.30" stroke="#666" stroke-width="0.5"/>
<text x="197.60" y="261.80" font-size="7.0" text-anchor="end" fill="#333">1</text>
<line x1="198.29999999999998" y1="259.40" x2="199.6" y2="259.40" stroke="#666" stroke-width="0.5"/>
<text x="197.60" y="238.90" font-size="7.0" text-anchor="end" fill="#333">2</text>
<line x1="198.29999999999998" y1="236.50" x2="199.6" y2="236.50" stroke="#666" stroke-width="0.5"/>
<text x="197.60" y="216.00" font-size="7.0" text-anchor="end" fill="#333">3</text>
<line x1="198.29999999999998" y1="213.60" x2="199.6" y2="213.60" stroke="#666" stroke-width="0.5"/>
<text x="197.60" y="193.10" font-size="7.0" text-anchor="end" fill="#333">4</text>
<line x1="198.29999999999998" y1="190.70" x2="199.6" y2="190.70" stroke="#666" stroke-width="0.5"/>
<text x="210.50" y="293.90" font-size="7.0" text-anchor="middle" fill="#333">−10</text>
<line x1="210.50" y1="286.6" x2="210.50" y2="287.90000000000003" stroke="#666" stroke-width="0.5"/>
<text x="225.25" y="293.90" font-size="7.0" text-anchor="middle" fill="#333">−5</text>
<line x1="225.25" y1="286.6" x2="225.25" y2="287.90000000000003" stroke="#666" stroke-width="0.5"/>
<text x="240.00" y="293.90" font-size="7.0" text-anchor="middle" fill="#333">0</text>
<line x1="240.00" y1="286.6" x2="240.00" y2="287.90000000000003" stroke="#666" stroke-width="0.5"/>
<text x="254.75" y="293.90" font-size="7.0" text-anchor="middle" fill="#333">5</text>
<line x1="254.75" y1="286.6" x2="254.75" y2="287.90000000000003" stroke="#666" stroke-width="0.5"/>
<text x="269.50" y="293.90" font-size="7.0" text-anchor="middle" fill="#333">10</text>
<line x1="269.50" y1="286.6" x2="269.50" y2="287.90000000000003" stroke="#666" stroke-width="0.5"/>
<text x="244.60" y="300.20" font-size="7.35" text-anchor="middle" fill="#111">log2(Fold Change)</text>
<text x="0.00" y="0.00" font-size="7.3" text-anchor="middle" fill="#111" transform="translate(192.1,236.8) rotate(-90)">−log10(<tspan font-style="italic">P</tspan>−value)</text>
<line x1="199.6" y1="252.51" x2="278.3" y2="252.51" stroke="#bbb" stroke-width="0.5" stroke-dasharray="1.2,1.2"/>
<line x1="240.3" y1="181.4" x2="240.3" y2="286.6" stroke="#bbb" stroke-width="0.5" stroke-dasharray="1.2,1.2"/>
<g fill="#c2c2c2" fill-opacity="0.9" stroke="#b8b8b8" stroke-width="0.3"><circle cx="238.1" cy="260.4" r="1.9"/><circle cx="237.0" cy="280.1" r="1.3"/><circle cx="244.1" cy="271.1" r="2.1"/><circle cx="233.2" cy="261.0" r="2.1"/><circle cx="238.2" cy="269.2" r="2.1"/><circle cx="231.7" cy="272.0" r="1.6"/><circle cx="237.8" cy="278.7" r="1.3"/><circle cx="230.3" cy="273.0" r="1.3"/><circle cx="230.0" cy="262.2" r="1.9"/><circle cx="240.9" cy="267.2" r="2.1"/><circle cx="244.3" cy="274.2" r="2.1"/><circle cx="238.7" cy="274.6" r="1.6"/><circle cx="230.7" cy="279.0" r="1.6"/><circle cx="233.5" cy="267.9" r="2.1"/><circle cx="243.3" cy="276.1" r="2.1"/><circle cx="235.6" cy="268.2" r="1.9"/><circle cx="235.9" cy="269.0" r="1.6"/><circle cx="240.5" cy="279.7" r="1.3"/><circle cx="245.6" cy="278.3" r="1.6"/><circle cx="234.5" cy="273.8" r="1.3"/><circle cx="232.6" cy="274.2" r="1.9"/><circle cx="230.5" cy="261.8" r="2.1"/><circle cx="242.0" cy="256.1" r="2.1"/><circle cx="229.3" cy="279.5" r="2.1"/><circle cx="243.6" cy="275.8" r="1.3"/><circle cx="241.7" cy="271.0" r="2.1"/><circle cx="234.6" cy="274.3" r="1.9"/><circle cx="245.4" cy="268.2" r="1.9"/><circle cx="231.4" cy="253.7" r="1.3"/><circle cx="245.4" cy="281.0" r="1.9"/><circle cx="231.8" cy="271.2" r="1.3"/><circle cx="234.7" cy="281.9" r="1.9"/><circle cx="244.1" cy="281.3" r="2.1"/><circle cx="243.3" cy="264.4" r="2.1"/><circle cx="239.0" cy="272.2" r="1.3"/><circle cx="244.6" cy="271.5" r="1.9"/><circle cx="240.9" cy="266.0" r="1.6"/><circle cx="236.3" cy="280.7" r="1.9"/><circle cx="238.2" cy="268.6" r="1.3"/><circle cx="245.5" cy="276.4" r="1.9"/><circle cx="239.2" cy="254.1" r="1.6"/><circle cx="239.4" cy="255.2" r="2.1"/><circle cx="244.0" cy="263.7" r="1.9"/><circle cx="229.5" cy="274.9" r="1.3"/><circle cx="229.3" cy="281.2" r="1.9"/><circle cx="236.7" cy="260.8" r="1.9"/><circle cx="232.5" cy="258.6" r="1.9"/><circle cx="233.5" cy="278.0" r="2.1"/><circle cx="242.2" cy="256.5" r="1.6"/><circle cx="233.0" cy="262.5" r="1.9"/><circle cx="232.5" cy="260.4" r="2.1"/><circle cx="230.8" cy="272.3" r="1.9"/><circle cx="240.4" cy="281.0" r="1.6"/><circle cx="243.1" cy="266.2" r="1.6"/><circle cx="241.1" cy="255.8" r="1.6"/><circle cx="236.6" cy="279.2" r="1.6"/><circle cx="229.7" cy="276.3" r="1.6"/><circle cx="242.7" cy="262.6" r="1.6"/><circle cx="234.7" cy="278.5" r="1.3"/><circle cx="234.8" cy="276.9" r="1.6"/><circle cx="237.7" cy="265.7" r="1.9"/><circle cx="239.6" cy="267.0" r="1.9"/><circle cx="236.0" cy="265.7" r="2.1"/><circle cx="229.7" cy="258.0" r="2.1"/><circle cx="245.3" cy="269.7" r="1.6"/><circle cx="236.7" cy="254.4" r="1.9"/><circle cx="243.7" cy="269.3" r="1.3"/><circle cx="245.3" cy="278.4" r="1.3"/><circle cx="229.8" cy="277.0" r="1.6"/><circle cx="244.1" cy="279.5" r="1.3"/><circle cx="241.1" cy="253.9" r="1.6"/><circle cx="233.2" cy="268.1" r="1.3"/><circle cx="236.0" cy="268.7" r="1.3"/><circle cx="233.5" cy="263.4" r="2.1"/><circle cx="230.1" cy="277.0" r="1.6"/><circle cx="237.9" cy="259.2" r="1.3"/><circle cx="241.9" cy="258.5" r="1.6"/><circle cx="229.2" cy="277.4" r="2.1"/><circle cx="233.9" cy="254.9" r="1.9"/><circle cx="237.7" cy="271.4" r="1.3"/><circle cx="241.8" cy="267.2" r="1.3"/><circle cx="242.0" cy="278.4" r="1.3"/><circle cx="230.7" cy="257.1" r="1.3"/><circle cx="230.5" cy="278.3" r="2.1"/><circle cx="234.5" cy="262.7" r="1.9"/><circle cx="235.6" cy="264.7" r="1.9"/><circle cx="232.5" cy="264.0" r="1.9"/><circle cx="231.5" cy="265.9" r="1.3"/><circle cx="235.4" cy="274.3" r="1.3"/><circle cx="230.0" cy="269.9" r="2.1"/><circle cx="242.0" cy="271.0" r="2.1"/><circle cx="229.9" cy="272.0" r="2.1"/><circle cx="239.4" cy="255.0" r="1.9"/><circle cx="240.5" cy="265.7" r="2.1"/><circle cx="233.1" cy="254.0" r="1.9"/><circle cx="230.4" cy="273.7" r="2.1"/><circle cx="231.6" cy="260.0" r="1.3"/><circle cx="235.3" cy="280.7" r="1.9"/><circle cx="240.3" cy="257.0" r="2.1"/><circle cx="241.2" cy="272.9" r="1.3"/><circle cx="241.0" cy="277.0" r="2.1"/><circle cx="241.6" cy="257.7" r="1.3"/><circle cx="238.4" cy="268.8" r="2.1"/><circle cx="230.0" cy="258.7" r="1.3"/><circle cx="231.5" cy="254.2" r="2.1"/><circle cx="244.9" cy="277.7" r="1.9"/><circle cx="229.7" cy="276.7" r="1.6"/><circle cx="241.2" cy="256.6" r="1.3"/><circle cx="243.4" cy="269.5" r="1.6"/><circle cx="233.1" cy="277.5" r="1.6"/><circle cx="236.7" cy="272.2" r="2.1"/><circle cx="239.0" cy="260.8" r="1.9"/><circle cx="245.0" cy="269.6" r="2.1"/><circle cx="245.0" cy="268.0" r="2.1"/><circle cx="245.2" cy="278.0" r="2.1"/><circle cx="241.6" cy="273.5" r="2.1"/><circle cx="235.9" cy="258.0" r="1.6"/><circle cx="237.4" cy="258.2" r="2.1"/><circle cx="237.7" cy="280.1" r="2.1"/><circle cx="243.2" cy="270.5" r="1.6"/><circle cx="232.7" cy="261.3" r="1.9"/><circle cx="243.3" cy="280.6" r="1.9"/><circle cx="243.2" cy="273.0" r="1.9"/><circle cx="234.2" cy="279.3" r="1.9"/><circle cx="235.5" cy="267.4" r="1.6"/><circle cx="233.2" cy="270.0" r="2.1"/><circle cx="231.5" cy="276.0" r="2.1"/><circle cx="232.6" cy="273.8" r="1.3"/><circle cx="240.9" cy="267.5" r="2.1"/><circle cx="243.7" cy="276.2" r="1.3"/><circle cx="233.1" cy="267.1" r="1.6"/><circle cx="241.9" cy="272.3" r="1.3"/><circle cx="243.4" cy="281.3" r="1.6"/><circle cx="242.0" cy="279.3" r="1.6"/><circle cx="240.6" cy="258.9" r="1.3"/><circle cx="233.3" cy="279.6" r="1.3"/><circle cx="236.2" cy="262.6" r="1.3"/><circle cx="233.8" cy="256.9" r="1.9"/><circle cx="236.7" cy="254.5" r="1.9"/><circle cx="234.9" cy="253.7" r="2.1"/><circle cx="230.7" cy="264.5" r="2.1"/><circle cx="238.1" cy="264.8" r="1.3"/><circle cx="230.3" cy="279.1" r="2.1"/><circle cx="243.4" cy="256.8" r="1.9"/><circle cx="244.2" cy="256.3" r="1.9"/><circle cx="235.2" cy="273.2" r="2.1"/><circle cx="240.2" cy="262.1" r="1.9"/><circle cx="244.3" cy="256.6" r="1.9"/><circle cx="238.0" cy="273.0" r="1.3"/><circle cx="237.5" cy="272.8" r="1.3"/><circle cx="240.3" cy="274.3" r="1.6"/><circle cx="241.2" cy="272.2" r="1.6"/><circle cx="243.5" cy="258.7" r="2.1"/><circle cx="244.1" cy="257.1" r="1.6"/><circle cx="239.8" cy="280.2" r="2.1"/><circle cx="239.8" cy="269.6" r="2.1"/><circle cx="241.9" cy="267.5" r="1.3"/><circle cx="232.5" cy="256.6" r="2.1"/><circle cx="233.7" cy="263.9" r="2.1"/><circle cx="231.8" cy="255.1" r="2.1"/><circle cx="233.3" cy="268.1" r="1.9"/><circle cx="244.9" cy="278.9" r="2.1"/><circle cx="241.8" cy="269.2" r="1.9"/><circle cx="245.4" cy="267.9" r="1.6"/><circle cx="231.1" cy="261.3" r="1.3"/><circle cx="244.0" cy="269.9" r="1.3"/><circle cx="232.6" cy="258.9" r="2.1"/><circle cx="235.6" cy="272.9" r="1.6"/><circle cx="231.7" cy="270.7" r="2.1"/><circle cx="238.1" cy="276.6" r="1.6"/><circle cx="232.6" cy="270.0" r="1.9"/><circle cx="234.1" cy="264.2" r="2.1"/><circle cx="244.9" cy="279.3" r="2.1"/><circle cx="243.8" cy="262.7" r="1.9"/><circle cx="245.2" cy="271.9" r="1.9"/><circle cx="240.2" cy="279.5" r="1.3"/><circle cx="241.1" cy="270.9" r="1.3"/><circle cx="241.3" cy="256.6" r="1.6"/><circle cx="237.8" cy="267.8" r="2.1"/><circle cx="241.8" cy="259.3" r="1.6"/><circle cx="237.4" cy="254.6" r="2.1"/><circle cx="234.1" cy="256.7" r="1.6"/><circle cx="241.9" cy="257.4" r="1.3"/><circle cx="239.2" cy="254.2" r="1.3"/><circle cx="229.7" cy="268.0" r="1.9"/><circle cx="243.3" cy="262.9" r="1.6"/><circle cx="242.6" cy="255.8" r="1.3"/><circle cx="241.3" cy="274.3" r="1.9"/><circle cx="232.4" cy="282.4" r="1.3"/><circle cx="236.3" cy="278.5" r="1.6"/><circle cx="231.1" cy="267.6" r="1.3"/><circle cx="242.9" cy="265.3" r="1.6"/><circle cx="237.0" cy="264.9" r="1.3"/><circle cx="236.1" cy="269.1" r="2.1"/><circle cx="236.8" cy="262.3" r="2.1"/><circle cx="236.7" cy="266.2" r="1.3"/><circle cx="235.2" cy="274.4" r="1.9"/><circle cx="235.2" cy="266.5" r="2.1"/><circle cx="229.6" cy="260.0" r="1.6"/><circle cx="235.4" cy="261.0" r="2.1"/><circle cx="231.9" cy="269.0" r="1.3"/><circle cx="235.9" cy="258.5" r="1.6"/><circle cx="231.5" cy="272.0" r="1.6"/><circle cx="232.4" cy="266.3" r="1.3"/><circle cx="234.5" cy="265.2" r="1.3"/><circle cx="230.0" cy="273.9" r="2.1"/><circle cx="237.3" cy="254.6" r="1.6"/><circle cx="235.7" cy="260.5" r="1.6"/><circle cx="239.3" cy="258.3" r="1.9"/><circle cx="239.0" cy="280.0" r="1.9"/><circle cx="241.9" cy="261.5" r="2.1"/><circle cx="245.1" cy="276.4" r="2.1"/><circle cx="233.7" cy="260.7" r="1.9"/><circle cx="234.9" cy="271.7" r="1.3"/><circle cx="236.4" cy="255.1" r="1.3"/><circle cx="229.3" cy="270.7" r="1.3"/><circle cx="229.5" cy="273.2" r="1.3"/><circle cx="232.4" cy="267.5" r="1.9"/><circle cx="244.8" cy="259.3" r="2.1"/><circle cx="237.1" cy="263.4" r="1.9"/><circle cx="229.5" cy="280.8" r="1.9"/><circle cx="239.6" cy="275.3" r="2.1"/><circle cx="234.2" cy="256.0" r="2.1"/><circle cx="235.7" cy="256.8" r="1.9"/><circle cx="241.9" cy="269.1" r="2.1"/><circle cx="241.1" cy="258.6" r="2.1"/><circle cx="238.3" cy="277.7" r="1.6"/><circle cx="236.0" cy="264.0" r="1.6"/><circle cx="240.6" cy="266.4" r="1.9"/><circle cx="232.2" cy="261.3" r="2.1"/><circle cx="229.7" cy="281.0" r="1.6"/><circle cx="229.5" cy="274.1" r="2.1"/><circle cx="240.4" cy="256.2" r="1.3"/><circle cx="239.0" cy="262.8" r="1.3"/><circle cx="243.6" cy="279.0" r="2.1"/><circle cx="243.3" cy="267.0" r="1.9"/><circle cx="228.9" cy="282.4" r="1.6"/><circle cx="244.7" cy="265.1" r="1.3"/><circle cx="234.4" cy="263.3" r="2.1"/><circle cx="239.7" cy="255.8" r="1.6"/><circle cx="245.2" cy="273.5" r="1.6"/><circle cx="229.5" cy="270.5" r="1.6"/><circle cx="232.8" cy="261.8" r="2.1"/><circle cx="244.0" cy="268.1" r="1.9"/><circle cx="238.0" cy="276.4" r="1.6"/><circle cx="239.4" cy="267.1" r="1.3"/><circle cx="230.9" cy="277.4" r="1.3"/><circle cx="230.7" cy="278.4" r="1.9"/><circle cx="236.9" cy="256.0" r="1.6"/><circle cx="240.4" cy="277.4" r="1.3"/><circle cx="241.7" cy="272.1" r="1.9"/><circle cx="240.0" cy="265.2" r="1.3"/><circle cx="244.4" cy="262.0" r="2.1"/><circle cx="232.5" cy="277.1" r="1.3"/><circle cx="241.1" cy="267.0" r="1.3"/><circle cx="232.5" cy="263.4" r="1.3"/><circle cx="240.5" cy="280.3" r="1.9"/><circle cx="239.8" cy="265.8" r="1.6"/><circle cx="242.7" cy="260.7" r="1.3"/><circle cx="236.3" cy="263.2" r="1.3"/><circle cx="234.6" cy="260.8" r="1.6"/><circle cx="243.6" cy="274.6" r="2.1"/><circle cx="238.0" cy="280.5" r="2.1"/><circle cx="232.5" cy="264.2" r="2.1"/><circle cx="241.8" cy="267.5" r="2.1"/><circle cx="238.8" cy="267.1" r="1.3"/><circle cx="244.2" cy="262.0" r="1.6"/><circle cx="229.5" cy="279.4" r="1.6"/><circle cx="237.7" cy="262.0" r="2.1"/><circle cx="241.2" cy="254.7" r="1.9"/><circle cx="230.0" cy="267.8" r="2.1"/><circle cx="241.5" cy="275.0" r="1.9"/><circle cx="236.5" cy="257.6" r="2.1"/><circle cx="232.7" cy="266.4" r="2.1"/><circle cx="240.7" cy="275.6" r="2.1"/><circle cx="243.8" cy="281.9" r="1.9"/><circle cx="236.2" cy="280.8" r="2.1"/><circle cx="245.4" cy="267.2" r="1.6"/><circle cx="243.0" cy="263.9" r="1.9"/><circle cx="235.5" cy="254.4" r="1.9"/><circle cx="234.0" cy="276.9" r="1.6"/><circle cx="237.7" cy="280.5" r="1.3"/><circle cx="237.9" cy="257.3" r="1.3"/><circle cx="230.4" cy="258.3" r="1.6"/><circle cx="242.4" cy="282.0" r="1.9"/><circle cx="242.2" cy="281.9" r="1.3"/><circle cx="233.2" cy="267.7" r="1.9"/><circle cx="234.8" cy="266.0" r="1.3"/><circle cx="242.5" cy="271.0" r="2.1"/><circle cx="233.4" cy="262.5" r="2.1"/><circle cx="233.6" cy="265.6" r="1.3"/><circle cx="230.3" cy="254.4" r="1.6"/><circle cx="242.6" cy="280.0" r="1.6"/><circle cx="241.5" cy="281.2" r="2.1"/><circle cx="242.7" cy="268.3" r="1.6"/><circle cx="232.2" cy="261.6" r="1.3"/><circle cx="230.3" cy="267.6" r="2.1"/><circle cx="240.1" cy="267.1" r="2.1"/><circle cx="239.5" cy="264.3" r="1.9"/><circle cx="240.3" cy="258.8" r="1.3"/><circle cx="235.0" cy="265.3" r="2.1"/><circle cx="233.6" cy="261.6" r="1.9"/><circle cx="231.6" cy="281.3" r="1.9"/><circle cx="230.2" cy="257.5" r="2.1"/><circle cx="242.9" cy="278.2" r="1.9"/><circle cx="238.5" cy="254.4" r="1.3"/><circle cx="233.9" cy="267.6" r="1.9"/><circle cx="240.0" cy="256.5" r="1.9"/><circle cx="237.2" cy="254.5" r="2.1"/><circle cx="244.0" cy="259.2" r="1.6"/><circle cx="244.6" cy="272.5" r="2.1"/><circle cx="233.8" cy="262.7" r="1.3"/><circle cx="234.3" cy="280.9" r="2.1"/><circle cx="229.9" cy="269.6" r="2.1"/><circle cx="244.9" cy="260.8" r="1.3"/><circle cx="244.8" cy="267.9" r="1.3"/><circle cx="231.1" cy="273.7" r="1.3"/><circle cx="242.6" cy="271.8" r="1.3"/><circle cx="245.4" cy="280.8" r="1.3"/><circle cx="245.1" cy="266.0" r="2.1"/><circle cx="238.1" cy="261.3" r="1.3"/><circle cx="237.2" cy="258.6" r="1.6"/><circle cx="243.7" cy="257.7" r="1.6"/><circle cx="236.9" cy="273.5" r="2.1"/><circle cx="231.5" cy="272.3" r="1.3"/><circle cx="239.4" cy="258.7" r="1.9"/><circle cx="242.4" cy="259.0" r="1.6"/><circle cx="244.5" cy="254.9" r="1.6"/><circle cx="231.2" cy="264.6" r="2.1"/><circle cx="230.0" cy="258.8" r="1.3"/><circle cx="231.9" cy="257.3" r="1.6"/><circle cx="244.4" cy="264.6" r="1.3"/><circle cx="229.1" cy="280.6" r="1.9"/><circle cx="245.5" cy="282.4" r="1.6"/><circle cx="238.1" cy="255.4" r="2.1"/><circle cx="242.7" cy="256.5" r="2.1"/><circle cx="235.0" cy="254.1" r="2.1"/><circle cx="236.8" cy="270.0" r="1.9"/><circle cx="238.0" cy="266.3" r="2.1"/><circle cx="238.9" cy="259.3" r="1.6"/><circle cx="243.1" cy="262.2" r="1.6"/><circle cx="242.8" cy="262.7" r="1.6"/><circle cx="244.7" cy="255.0" r="2.1"/><circle cx="232.1" cy="271.3" r="1.3"/><circle cx="231.5" cy="258.1" r="2.1"/><circle cx="240.5" cy="282.3" r="1.9"/><circle cx="238.0" cy="256.2" r="2.1"/><circle cx="238.8" cy="262.9" r="1.6"/><circle cx="237.5" cy="262.9" r="1.9"/><circle cx="238.9" cy="272.0" r="1.9"/><circle cx="243.0" cy="278.5" r="1.9"/><circle cx="234.0" cy="281.8" r="1.6"/><circle cx="237.4" cy="257.1" r="1.9"/><circle cx="233.3" cy="274.6" r="2.1"/><circle cx="236.6" cy="281.5" r="2.1"/><circle cx="242.0" cy="263.2" r="1.6"/><circle cx="237.9" cy="282.1" r="2.1"/><circle cx="229.8" cy="282.3" r="2.1"/><circle cx="242.9" cy="265.8" r="1.9"/><circle cx="242.8" cy="255.2" r="2.1"/><circle cx="230.8" cy="259.6" r="1.6"/><circle cx="237.3" cy="255.1" r="1.3"/><circle cx="243.3" cy="266.0" r="1.9"/><circle cx="235.4" cy="253.8" r="1.9"/><circle cx="235.4" cy="265.1" r="1.3"/><circle cx="231.7" cy="270.4" r="1.6"/><circle cx="230.8" cy="253.5" r="1.3"/><circle cx="230.9" cy="257.5" r="1.9"/><circle cx="232.6" cy="266.1" r="1.3"/><circle cx="244.2" cy="269.1" r="2.1"/><circle cx="242.8" cy="274.9" r="1.6"/><circle cx="240.3" cy="266.3" r="1.3"/><circle cx="244.3" cy="268.3" r="1.6"/><circle cx="243.7" cy="267.3" r="1.9"/><circle cx="231.2" cy="269.5" r="1.6"/><circle cx="230.6" cy="270.9" r="1.3"/><circle cx="235.5" cy="276.6" r="2.1"/><circle cx="232.1" cy="277.6" r="1.9"/><circle cx="232.8" cy="257.6" r="2.1"/><circle cx="244.7" cy="270.5" r="1.9"/><circle cx="224.1" cy="266.9" r="1.9"/><circle cx="226.8" cy="266.7" r="1.6"/><circle cx="228.7" cy="276.3" r="1.6"/><circle cx="220.2" cy="265.6" r="1.6"/><circle cx="229.1" cy="274.7" r="1.3"/><circle cx="228.2" cy="270.3" r="1.6"/><circle cx="228.8" cy="268.8" r="1.6"/><circle cx="221.6" cy="271.2" r="1.3"/><circle cx="220.0" cy="273.0" r="1.9"/><circle cx="225.0" cy="273.8" r="1.3"/><circle cx="221.4" cy="277.4" r="1.9"/><circle cx="223.7" cy="270.5" r="1.6"/><circle cx="226.4" cy="273.2" r="1.3"/><circle cx="225.5" cy="270.5" r="1.9"/><circle cx="220.9" cy="273.2" r="1.9"/><circle cx="224.9" cy="270.1" r="1.9"/><circle cx="228.5" cy="276.2" r="1.3"/><circle cx="224.2" cy="276.0" r="1.6"/><circle cx="226.1" cy="272.7" r="1.3"/><circle cx="221.4" cy="267.0" r="1.6"/><circle cx="220.8" cy="278.7" r="1.6"/><circle cx="228.3" cy="270.1" r="1.3"/><circle cx="222.9" cy="269.1" r="1.9"/><circle cx="228.2" cy="266.3" r="1.6"/><circle cx="223.4" cy="268.7" r="1.6"/><circle cx="222.1" cy="269.3" r="1.9"/><circle cx="229.6" cy="276.1" r="1.3"/><circle cx="221.8" cy="271.9" r="1.9"/><circle cx="221.3" cy="272.5" r="1.3"/><circle cx="221.8" cy="275.2" r="1.9"/><circle cx="221.9" cy="275.4" r="1.9"/><circle cx="223.6" cy="273.3" r="1.9"/><circle cx="221.4" cy="269.9" r="1.6"/><circle cx="220.1" cy="276.9" r="1.6"/><circle cx="224.6" cy="273.9" r="1.6"/><circle cx="225.0" cy="271.6" r="1.6"/><circle cx="221.8" cy="277.4" r="1.6"/><circle cx="223.1" cy="279.9" r="1.6"/><circle cx="227.5" cy="267.2" r="1.6"/><circle cx="223.1" cy="276.1" r="1.9"/><circle cx="222.9" cy="270.6" r="1.3"/><circle cx="228.4" cy="272.4" r="1.9"/><circle cx="221.1" cy="278.9" r="1.6"/><circle cx="224.7" cy="274.0" r="1.9"/><circle cx="221.6" cy="266.9" r="1.9"/><circle cx="225.7" cy="274.0" r="1.9"/><circle cx="228.8" cy="273.4" r="1.6"/><circle cx="228.3" cy="276.3" r="1.6"/><circle cx="229.2" cy="271.6" r="1.9"/><circle cx="227.2" cy="270.6" r="1.6"/><circle cx="223.4" cy="268.1" r="1.6"/><circle cx="226.8" cy="273.7" r="1.6"/><circle cx="227.0" cy="270.2" r="1.3"/><circle cx="222.9" cy="276.0" r="1.3"/><circle cx="225.2" cy="272.2" r="1.6"/><circle cx="225.3" cy="270.8" r="1.9"/><circle cx="220.1" cy="272.5" r="1.3"/><circle cx="221.2" cy="275.1" r="1.3"/><circle cx="220.6" cy="273.3" r="1.6"/><circle cx="228.6" cy="273.0" r="1.6"/><circle cx="222.4" cy="272.5" r="1.9"/><circle cx="222.8" cy="279.2" r="1.3"/><circle cx="221.7" cy="267.1" r="1.6"/><circle cx="224.1" cy="269.3" r="1.9"/><circle cx="221.5" cy="273.8" r="1.9"/><circle cx="229.4" cy="275.2" r="1.3"/><circle cx="229.8" cy="277.0" r="1.9"/><circle cx="223.1" cy="267.1" r="1.9"/><circle cx="220.9" cy="266.7" r="1.6"/><circle cx="223.0" cy="267.2" r="1.3"/><circle cx="221.2" cy="275.2" r="1.6"/><circle cx="229.9" cy="267.4" r="1.6"/><circle cx="227.3" cy="272.8" r="1.9"/><circle cx="225.5" cy="279.7" r="1.6"/><circle cx="222.2" cy="273.4" r="1.9"/><circle cx="229.0" cy="267.7" r="1.3"/><circle cx="221.3" cy="274.8" r="1.3"/><circle cx="227.8" cy="267.4" r="1.9"/><circle cx="229.5" cy="277.8" r="1.9"/><circle cx="226.3" cy="269.2" r="1.9"/><circle cx="225.3" cy="276.3" r="1.6"/><circle cx="221.6" cy="267.8" r="1.9"/><circle cx="220.3" cy="271.7" r="1.6"/><circle cx="221.1" cy="273.4" r="1.9"/><circle cx="228.1" cy="276.1" r="1.6"/><circle cx="220.9" cy="274.6" r="1.9"/><circle cx="221.0" cy="265.6" r="1.3"/><circle cx="226.1" cy="273.0" r="1.9"/><circle cx="224.3" cy="279.9" r="1.9"/><circle cx="224.1" cy="268.1" r="1.3"/><circle cx="236.8" cy="241.6" r="1.5"/><circle cx="237.4" cy="216.3" r="1.8"/><circle cx="240.1" cy="247.5" r="1.5"/><circle cx="237.0" cy="246.3" r="1.5"/><circle cx="236.6" cy="235.9" r="1.8"/><circle cx="240.1" cy="239.5" r="1.5"/><circle cx="238.8" cy="246.2" r="1.5"/><circle cx="237.6" cy="221.2" r="1.5"/><circle cx="237.0" cy="227.3" r="1.8"/><circle cx="237.1" cy="241.0" r="1.2"/><circle cx="238.0" cy="216.0" r="1.2"/><circle cx="239.4" cy="223.7" r="1.5"/><circle cx="239.3" cy="225.3" r="1.8"/><circle cx="238.4" cy="250.0" r="1.2"/><circle cx="239.1" cy="231.6" r="1.5"/><circle cx="240.5" cy="221.9" r="1.5"/><circle cx="239.0" cy="218.9" r="1.8"/><circle cx="241.2" cy="220.8" r="1.8"/><circle cx="237.1" cy="254.0" r="1.2"/><circle cx="237.6" cy="235.5" r="1.5"/><circle cx="237.1" cy="234.5" r="1.5"/><circle cx="240.5" cy="243.9" r="1.5"/><circle cx="236.6" cy="215.9" r="1.8"/><circle cx="236.5" cy="242.6" r="1.5"/><circle cx="241.0" cy="216.9" r="1.8"/><circle cx="238.0" cy="246.9" r="1.5"/><circle cx="238.0" cy="226.9" r="1.2"/><circle cx="238.0" cy="237.0" r="1.5"/><circle cx="241.3" cy="216.7" r="1.8"/><circle cx="237.5" cy="218.3" r="1.8"/><circle cx="238.5" cy="244.2" r="1.8"/><circle cx="239.0" cy="239.6" r="1.2"/><circle cx="241.3" cy="226.7" r="1.8"/><circle cx="236.5" cy="217.7" r="1.8"/><circle cx="239.0" cy="218.3" r="1.8"/><circle cx="240.1" cy="236.9" r="1.5"/><circle cx="238.7" cy="228.4" r="1.2"/><circle cx="238.1" cy="233.8" r="1.8"/><circle cx="237.8" cy="233.5" r="1.5"/><circle cx="237.5" cy="218.8" r="1.5"/><circle cx="205.5" cy="264.3" r="2.3"/><circle cx="213.0" cy="273.0" r="1.8"/><circle cx="217.7" cy="271.0" r="1.6"/><circle cx="219.0" cy="265.5" r="1.9"/><circle cx="217.0" cy="278.4" r="1.4"/><circle cx="221.8" cy="255.2" r="1.9"/><circle cx="251.2" cy="269.6" r="1.8"/><circle cx="254.6" cy="268.9" r="1.4"/><circle cx="253.2" cy="274.3" r="1.8"/><circle cx="258.0" cy="274.0" r="1.5"/><circle cx="266.8" cy="276.0" r="1.7"/><circle cx="253.2" cy="280.7" r="1.2"/><circle cx="256.6" cy="281.6" r="1.2"/><circle cx="247.0" cy="266.1" r="1.9"/><circle cx="248.0" cy="258.0" r="1.5"/><circle cx="226.0" cy="253.5" r="1.6"/><circle cx="239.0" cy="228.0" r="1.4"/><circle cx="240.0" cy="222.0" r="1.5"/><circle cx="241.5" cy="212.0" r="1.4"/><circle cx="247.5" cy="254.5" r="1.5"/></g>
<g fill="#2a5aa8" fill-opacity="0.55" stroke="#1d4b95" stroke-width="0.5"><circle cx="232.9" cy="186.0" r="1.9"/><circle cx="233.5" cy="212.5" r="2.0"/><circle cx="236.0" cy="214.2" r="1.8"/><circle cx="231.8" cy="219.0" r="2.1"/><circle cx="234.0" cy="221.0" r="2.0"/><circle cx="229.5" cy="228.5" r="2.2"/><circle cx="226.6" cy="232.0" r="2.1"/><circle cx="228.0" cy="236.5" r="2.0"/><circle cx="226.2" cy="240.5" r="2.2"/><circle cx="227.5" cy="244.5" r="1.8"/><circle cx="229.8" cy="250.5" r="1.9"/><circle cx="235.6" cy="241.3" r="1.5"/><circle cx="236.0" cy="248.1" r="1.8"/><circle cx="237.5" cy="242.1" r="1.5"/><circle cx="237.1" cy="233.5" r="2.3"/><circle cx="233.7" cy="238.9" r="1.5"/><circle cx="231.7" cy="244.7" r="1.8"/><circle cx="235.9" cy="250.4" r="1.8"/><circle cx="227.8" cy="245.6" r="2.3"/><circle cx="230.0" cy="225.9" r="1.5"/><circle cx="229.5" cy="228.5" r="1.8"/><circle cx="230.4" cy="249.0" r="1.8"/><circle cx="234.9" cy="238.7" r="1.8"/><circle cx="238.2" cy="227.6" r="1.8"/><circle cx="237.4" cy="252.0" r="2.1"/><circle cx="233.6" cy="222.7" r="1.8"/><circle cx="230.8" cy="230.2" r="1.5"/><circle cx="235.2" cy="240.5" r="1.5"/><circle cx="236.5" cy="231.6" r="2.3"/><circle cx="229.1" cy="243.6" r="2.3"/><circle cx="227.7" cy="243.8" r="1.5"/><circle cx="231.1" cy="251.4" r="2.3"/><circle cx="236.8" cy="222.6" r="2.1"/><circle cx="236.8" cy="233.7" r="2.3"/><circle cx="231.6" cy="223.4" r="1.8"/><circle cx="232.1" cy="225.7" r="2.3"/><circle cx="231.1" cy="232.7" r="2.1"/><circle cx="228.3" cy="246.0" r="2.1"/><circle cx="227.4" cy="248.7" r="1.5"/><circle cx="232.9" cy="228.5" r="2.1"/><circle cx="230.9" cy="250.5" r="1.5"/><circle cx="230.7" cy="231.7" r="1.8"/><circle cx="234.3" cy="246.8" r="2.1"/><circle cx="228.9" cy="252.9" r="1.5"/><circle cx="235.2" cy="224.5" r="2.3"/><circle cx="236.4" cy="223.0" r="2.1"/><circle cx="232.3" cy="247.6" r="2.3"/><circle cx="238.4" cy="226.5" r="1.5"/><circle cx="230.9" cy="246.9" r="1.8"/><circle cx="235.5" cy="226.0" r="1.8"/><circle cx="236.1" cy="241.5" r="1.5"/><circle cx="231.3" cy="227.2" r="1.5"/><circle cx="230.4" cy="248.2" r="2.3"/><circle cx="234.2" cy="250.6" r="1.8"/><circle cx="232.3" cy="252.3" r="2.3"/><circle cx="230.7" cy="243.4" r="2.1"/><circle cx="231.7" cy="231.0" r="1.8"/><circle cx="237.1" cy="225.5" r="1.8"/><circle cx="232.8" cy="241.4" r="2.1"/><circle cx="232.7" cy="227.6" r="2.1"/><circle cx="236.8" cy="224.0" r="2.1"/><circle cx="234.7" cy="243.5" r="2.1"/><circle cx="235.2" cy="233.3" r="2.1"/><circle cx="230.1" cy="247.9" r="2.1"/><circle cx="230.9" cy="251.7" r="1.8"/><circle cx="227.1" cy="240.0" r="2.1"/></g>
<g fill="#d42c40" fill-opacity="0.5" stroke="#cc2236" stroke-width="0.5"><circle cx="243.5" cy="209.8" r="1.9"/><circle cx="245.5" cy="220.4" r="1.6"/><circle cx="245.0" cy="228.0" r="1.9"/><circle cx="249.8" cy="239.3" r="1.8"/><circle cx="250.3" cy="248.6" r="1.9"/><circle cx="244.0" cy="232.5" r="1.6"/><circle cx="243.0" cy="239.5" r="1.7"/><circle cx="246.4" cy="249.3" r="1.7"/><circle cx="246.3" cy="240.0" r="2.0"/><circle cx="244.2" cy="251.8" r="1.4"/><circle cx="246.7" cy="250.4" r="1.7"/><circle cx="245.2" cy="252.1" r="2.0"/><circle cx="242.4" cy="252.6" r="1.7"/><circle cx="244.8" cy="251.7" r="2.0"/><circle cx="246.6" cy="234.6" r="1.7"/><circle cx="247.5" cy="236.4" r="2.0"/><circle cx="248.9" cy="243.3" r="1.7"/><circle cx="247.5" cy="245.5" r="2.0"/><circle cx="249.5" cy="238.4" r="1.4"/><circle cx="244.5" cy="236.2" r="2.0"/><circle cx="247.4" cy="236.6" r="1.4"/><circle cx="241.0" cy="245.6" r="1.7"/><circle cx="242.1" cy="252.6" r="1.4"/><circle cx="249.2" cy="235.2" r="1.7"/><circle cx="240.9" cy="236.9" r="1.7"/><circle cx="246.5" cy="240.0" r="1.4"/><circle cx="242.7" cy="244.8" r="1.7"/><circle cx="244.2" cy="233.0" r="1.7"/><circle cx="248.3" cy="250.1" r="2.0"/><circle cx="243.9" cy="249.6" r="1.4"/></g>
<circle cx="284.7" cy="209.1" r="1.0" fill="#d02030"/>
<text x="288.90" y="211.20" font-size="5.9" fill="#222">UP:52</text>
<circle cx="284.7" cy="217.3" r="1.0" fill="#2050a0"/>
<text x="288.90" y="219.40" font-size="5.9" fill="#222">DOWN:150</text>
<circle cx="284.7" cy="224.6" r="1.0" fill="#bdbdbd"/>
<text x="288.90" y="226.70" font-size="5.9" fill="#222">NoDiff:2752</text>
<text x="284.80" y="238.30" font-size="5.9" fill="#222">VIP</text>
<circle cx="288.3" cy="244.3" r="1.2" fill="#000"/>
<text x="292.90" y="246.40" font-size="5.9" fill="#222">1</text>
<circle cx="288.3" cy="250.4" r="1.6" fill="#000"/>
<text x="292.90" y="252.50" font-size="5.9" fill="#222">2</text>
<circle cx="288.3" cy="256.9" r="1.95" fill="#000"/>
<text x="292.90" y="259.00" font-size="5.9" fill="#222">3</text>
<circle cx="288.3" cy="263.4" r="2.3" fill="#000"/>
<text x="292.90" y="265.50" font-size="5.9" fill="#222">4</text>
<rect x="432.3" y="187.2" width="88.69999999999999" height="103.0" fill="#fff" stroke="#c8c8c8" stroke-width="0.6"/>
<text x="431.00" y="197.00" font-size="4.7" text-anchor="end" fill="#333">Pyrimidine metabolism</text>
<text x="431.00" y="209.55" font-size="4.7" text-anchor="end" fill="#333">Purine metabolism</text>
<text x="431.00" y="222.10" font-size="4.7" text-anchor="end" fill="#333">Phenylalanine, tyrosine and tryptophan biosynthesis</text>
<text x="431.00" y="234.65" font-size="4.7" text-anchor="end" fill="#333">Phenylalanine metabolism</text>
<text x="431.00" y="247.20" font-size="4.7" text-anchor="end" fill="#333">Nitrogen metabolism</text>
<text x="431.00" y="259.75" font-size="4.7" text-anchor="end" fill="#333">Glyoxylate and dicarboxylate metabolism</text>
<text x="431.00" y="272.30" font-size="4.7" text-anchor="end" fill="#333">Arginine biosynthesis</text>
<text x="431.00" y="284.85" font-size="4.7" text-anchor="end" fill="#333">Alanine, aspartate and glutamate metabolism</text>
<circle cx="436.6" cy="195.3" r="1.8" fill="#c01018"/>
<circle cx="516.5" cy="207.9" r="0.6" fill="#283c9a"/>
<circle cx="440.0" cy="220.4" r="0.4" fill="#f8f0a0"/>
<circle cx="444.8" cy="232.9" r="0.4" fill="#f8f0c0"/>
<circle cx="443.0" cy="245.5" r="1.0" fill="#f0c040"/>
<circle cx="474.8" cy="258.0" r="0.9" fill="#48b0e0"/>
<circle cx="451.4" cy="270.6" r="0.5" fill="#f0e090"/>
<circle cx="470.1" cy="283.2" r="0.9" fill="#48b0e8"/>
<text x="435.00" y="295.40" font-size="5.0" text-anchor="middle" fill="#444">0.00</text>
<text x="466.20" y="295.40" font-size="5.0" text-anchor="middle" fill="#444">0.05</text>
<text x="498.80" y="295.40" font-size="5.0" text-anchor="middle" fill="#444">0.10</text>
<text x="477.50" y="298.80" font-size="3.6" text-anchor="middle" fill="#333">Pvalue</text>
<text x="522.40" y="221.40" font-size="3.3" fill="#333">-log10(Pvalue)</text>
<rect x="523.2" y="224.3" width="2.5" height="13.2" fill="url(#gF)"/>
<text x="527.40" y="226.80" font-size="3.0" fill="#333">2.5</text>
<text x="527.40" y="230.40" font-size="3.0" fill="#333">2.0</text>
<text x="527.40" y="234.00" font-size="3.0" fill="#333">1.5</text>
<text x="527.40" y="237.60" font-size="3.0" fill="#333">1.0</text>
<text x="522.40" y="243.70" font-size="3.2" fill="#333">Count</text>
<circle cx="524.4" cy="250.2" r="0.5" fill="#000"/>
<circle cx="524.4" cy="255.6" r="1.5" fill="#000"/>
<text x="527.60" y="251.30" font-size="3.0" fill="#333">1.00</text>
<text x="527.60" y="256.70" font-size="3.0" fill="#333">2.00</text>
<rect x="234.0" y="321.5" width="224.8" height="314.7" fill="#fff" stroke="#c4c4c4" stroke-width="0.9"/>
<path d="M234.0 327.60H458.8M234.0 338.02H458.8M234.0 348.44H458.8M234.0 358.86H458.8M234.0 369.28H458.8M234.0 379.70H458.8M234.0 390.12H458.8M234.0 400.54H458.8M234.0 410.96H458.8M234.0 421.38H458.8M234.0 431.80H458.8M234.0 442.22H458.8M234.0 452.64H458.8M234.0 463.06H458.8M234.0 473.48H458.8M234.0 483.90H458.8M234.0 494.32H458.8M234.0 504.74H458.8M234.0 515.16H458.8M234.0 525.58H458.8M234.0 536.00H458.8M234.0 546.42H458.8M234.0 556.84H458.8M234.0 567.26H458.8M234.0 577.68H458.8M234.0 588.10H458.8M234.0 598.52H458.8M234.0 608.94H458.8M234.0 619.36H458.8M234.0 629.78H458.8" stroke="#ececec" stroke-width="0.4" stroke-dasharray="1,1.2" fill="none"/>
<circle cx="241.00" cy="327.60" r="2.95" fill="#ee4a4f"/><circle cx="252.13" cy="327.60" r="2.6" fill="#f6bec0"/><circle cx="263.26" cy="327.60" r="2.35" fill="#6fbcea"/><circle cx="274.39" cy="327.60" r="2.6" fill="#f6bec0"/><circle cx="285.52" cy="327.60" r="2.6" fill="#f6bec0"/><circle cx="296.65" cy="327.60" r="2.7" fill="#3699de"/><circle cx="307.78" cy="327.60" r="1.9" fill="#e6e6e6" stroke="#c4c4c4" stroke-width="0.75"/><circle cx="318.91" cy="327.60" r="2.6" fill="#f6bec0"/><circle cx="330.04" cy="327.60" r="2.35" fill="#6fbcea"/><circle cx="341.17" cy="327.60" r="2.95" fill="#1b2558"/><circle cx="352.30" cy="327.60" r="1.9" fill="#e6e6e6" stroke="#c4c4c4" stroke-width="0.75"/><circle cx="363.43" cy="327.60" r="1.9" fill="#e6e6e6" stroke="#c4c4c4" stroke-width="0.75"/><circle cx="374.56" cy="327.60" r="2.6" fill="#f6bec0"/><circle cx="385.69" cy="327.60" r="1.9" fill="#e6e6e6" stroke="#c4c4c4" stroke-width="0.75"/><circle cx="396.82" cy="327.60" r="1.9" fill="#e6e6e6" stroke="#c4c4c4" stroke-width="0.75"/><circle cx="407.95" cy="327.60" r="2.35" fill="#6fbcea"/><circle cx="419.08" cy="327.60" r="2.6" fill="#f6bec0"/><circle cx="430.21" cy="327.60" r="2.6" fill="#f6bec0"/><circle cx="441.34" cy="327.60" r="2.35" fill="#6fbcea"/><circle cx="452.47" cy="327.60" r="2.35" fill="#6fbcea"/><circle cx="241.00" cy="338.02" r="2.6" fill="#f6bec0"/><circle cx="252.13" cy="338.02" r="2.6" fill="#f6bec0"/><circle cx="263.26" cy="338.02" r="2.35" fill="#6fbcea"/><circle cx="274.39" cy="338.02" r="2.6" fill="#f6bec0"/><circle cx="285.52" cy="338.02" r="2.6" fill="#f6bec0"/><circle cx="296.65" cy="338.02" r="2.7" fill="#3699de"/><circle cx="307.78" cy="338.02" r="2.6" fill="#f6bec0"/><circle cx="318.91" cy="338.02" r="1.9" fill="#e6e6e6" stroke="#c4c4c4" stroke-width="0.75"/><circle cx="330.04" cy="338.02" r="2.85" fill="#2756a8"/><circle cx="341.17" cy="338.02" r="2.35" fill="#6fbcea"/><circle cx="352.30" cy="338.02" r="2.35" fill="#6fbcea"/><circle cx="363.43" cy="338.02" r="2.6" fill="#f6bec0"/><circle cx="374.56" cy="338.02" r="2.6" fill="#f6bec0"/><circle cx="385.69" cy="338.02" r="2.35" fill="#6fbcea"/><circle cx="396.82" cy="338.02" r="2.7" fill="#3699de"/><circle cx="407.95" cy="338.02" r="2.95" fill="#1b2558"/><circle cx="419.08" cy="338.02" r="2.6" fill="#f6bec0"/><circle cx="430.21" cy="338.02" r="2.6" fill="#f6bec0"/><circle cx="441.34" cy="338.02" r="2.35" fill="#6fbcea"/><circle cx="452.47" cy="338.02" r="2.95" fill="#1b2558"/><circle cx="241.00" cy="348.44" r="2.6" fill="#f6bec0"/><circle cx="252.13" cy="348.44" r="2.6" fill="#f6bec0"/><circle cx="263.26" cy="348.44" r="2.35" fill="#6fbcea"/><circle cx="274.39" cy="348.44" r="2.6" fill="#f6bec0"/><circle cx="285.52" cy="348.44" r="2.6" fill="#f6bec0"/><circle cx="296.65" cy="348.44" r="2.35" fill="#6fbcea"/><circle cx="307.78" cy="348.44" r="2.6" fill="#f6bec0"/><circle cx="318.91" cy="348.44" r="1.9" fill="#e6e6e6" stroke="#c4c4c4" stroke-width="0.75"/><circle cx="330.04" cy="348.44" r="2.7" fill="#3699de"/><circle cx="341.17" cy="348.44" r="2.35" fill="#6fbcea"/><circle cx="352.30" cy="348.44" r="2.35" fill="#6fbcea"/><circle cx="363.43" cy="348.44" r="2.6" fill="#f6bec0"/><circle cx="374.56" cy="348.44" r="2.6" fill="#f6bec0"/><circle cx="385.69" cy="348.44" r="2.35" fill="#6fbcea"/><circle cx="396.82" cy="348.44" r="2.35" fill="#6fbcea"/><circle cx="407.95" cy="348.44" r="2.35" fill="#6fbcea"/><circle cx="419.08" cy="348.44" r="2.6" fill="#f6bec0"/><circle cx="430.21" cy="348.44" r="1.9" fill="#e6e6e6" stroke="#c4c4c4" stroke-width="0.75"/><circle cx="441.34" cy="348.44" r="2.7" fill="#3699de"/><circle cx="452.47" cy="348.44" r="2.35" fill="#6fbcea"/><circle cx="241.00" cy="358.86" r="2.35" fill="#6fbcea"/><circle cx="252.13" cy="358.86" r="2.35" fill="#6fbcea"/><circle cx="263.26" cy="358.86" r="2.6" fill="#f6bec0"/><circle cx="274.39" cy="358.86" r="1.9" fill="#e6e6e6" stroke="#c4c4c4" stroke-width="0.75"/><circle cx="285.52" cy="358.86" r="1.9" fill="#e6e6e6" stroke="#c4c4c4" stroke-width="0.75"/><circle cx="296.65" cy="358.86" r="2.6" fill="#f6bec0"/><circle cx="307.78" cy="358.86" r="1.9" fill="#e6e6e6" stroke="#c4c4c4" stroke-width="0.75"/><circle cx="318.91" cy="358.86" r="1.9" fill="#e6e6e6" stroke="#c4c4c4" stroke-width="0.75"/><circle cx="330.04" cy="358.86" r="2.6" fill="#f6bec0"/><circle cx="341.17" cy="358.86" r="2.6" fill="#f6bec0"/><circle cx="352.30" cy="358.86" r="1.9" fill="#e6e6e6" stroke="#c4c4c4" stroke-width="0.75"/><circle cx="363.43" cy="358.86" r="2.35" fill="#6fbcea"/><circle cx="374.56" cy="358.86" r="2.35" fill="#6fbcea"/><circle cx="385.69" cy="358.86" r="1.9" fill="#e6e6e6" stroke="#c4c4c4" stroke-width="0.75"/><circle cx="396.82" cy="358.86" r="2.6" fill="#f6bec0"/><circle cx="407.95" cy="358.86" r="2.6" fill="#f6bec0"/><circle cx="419.08" cy="358.86" r="2.7" fill="#3699de"/><circle cx="430.21" cy="358.86" r="2.35" fill="#6fbcea"/><circle cx="441.34" cy="358.86" r="2.6" fill="#f6bec0"/><circle cx="452.47" cy="358.86" r="2.6" fill="#f6bec0"/><circle cx="241.00" cy="369.28" r="2.6" fill="#f6bec0"/><circle cx="252.13" cy="369.28" r="2.6" fill="#f6bec0"/><circle cx="263.26" cy="369.28" r="1.9" fill="#e6e6e6" stroke="#c4c4c4" stroke-width="0.75"/><circle cx="274.39" cy="369.28" r="2.6" fill="#f6bec0"/><circle cx="285.52" cy="369.28" r="2.6" fill="#f6bec0"/><circle cx="296.65" cy="369.28" r="2.95" fill="#1b2558"/><circle cx="307.78" cy="369.28" r="2.6" fill="#f6bec0"/><circle cx="318.91" cy="369.28" r="2.6" fill="#f6bec0"/><circle cx="330.04" cy="369.28" r="2.35" fill="#6fbcea"/><circle cx="341.17" cy="369.28" r="2.35" fill="#6fbcea"/><circle cx="352.30" cy="369.28" r="2.85" fill="#2756a8"/><circle cx="363.43" cy="369.28" r="1.9" fill="#e6e6e6" stroke="#c4c4c4" stroke-width="0.75"/><circle cx="374.56" cy="369.28" r="2.6" fill="#f6bec0"/><circle cx="385.69" cy="369.28" r="2.7" fill="#3699de"/><circle cx="396.82" cy="369.28" r="2.35" fill="#6fbcea"/><circle cx="407.95" cy="369.28" r="2.35" fill="#6fbcea"/><circle cx="419.08" cy="369.28" r="2.6" fill="#f6bec0"/><circle cx="430.21" cy="369.28" r="2.6" fill="#f6bec0"/><circle cx="441.34" cy="369.28" r="2.35" fill="#6fbcea"/><circle cx="452.47" cy="369.28" r="2.35" fill="#6fbcea"/><circle cx="241.00" cy="379.70" r="2.6" fill="#f6bec0"/><circle cx="252.13" cy="379.70" r="2.6" fill="#f6bec0"/><circle cx="263.26" cy="379.70" r="2.35" fill="#6fbcea"/><circle cx="274.39" cy="379.70" r="1.9" fill="#e6e6e6" stroke="#c4c4c4" stroke-width="0.75"/><circle cx="285.52" cy="379.70" r="2.6" fill="#f6bec0"/><circle cx="296.65" cy="379.70" r="2.7" fill="#3699de"/><circle cx="307.78" cy="379.70" r="1.9" fill="#e6e6e6" stroke="#c4c4c4" stroke-width="0.75"/><circle cx="318.91" cy="379.70" r="1.9" fill="#e6e6e6" stroke="#c4c4c4" stroke-width="0.75"/><circle cx="330.04" cy="379.70" r="2.35" fill="#6fbcea"/><circle cx="341.17" cy="379.70" r="2.35" fill="#6fbcea"/><circle cx="352.30" cy="379.70" r="2.35" fill="#6fbcea"/><circle cx="363.43" cy="379.70" r="2.6" fill="#f6bec0"/><circle cx="374.56" cy="379.70" r="2.6" fill="#f6bec0"/><circle cx="385.69" cy="379.70" r="1.9" fill="#e6e6e6" stroke="#c4c4c4" stroke-width="0.75"/><circle cx="396.82" cy="379.70" r="2.7" fill="#3699de"/><circle cx="407.95" cy="379.70" r="2.7" fill="#3699de"/><circle cx="419.08" cy="379.70" r="2.6" fill="#f6bec0"/><circle cx="430.21" cy="379.70" r="2.6" fill="#f6bec0"/><circle cx="441.34" cy="379.70" r="1.9" fill="#e6e6e6" stroke="#c4c4c4" stroke-width="0.75"/><circle cx="452.47" cy="379.70" r="2.7" fill="#3699de"/><circle cx="241.00" cy="390.12" r="2.6" fill="#f6bec0"/><circle cx="252.13" cy="390.12" r="2.6" fill="#f6bec0"/><circle cx="263.26" cy="390.12" r="2.35" fill="#6fbcea"/><circle cx="274.39" cy="390.12" r="2.6" fill="#f6bec0"/><circle cx="285.52" cy="390.12" r="2.6" fill="#f6bec0"/><circle cx="296.65" cy="390.12" r="2.35" fill="#6fbcea"/><circle cx="307.78" cy="390.12" r="1.9" fill="#e6e6e6" stroke="#c4c4c4" stroke-width="0.75"/><circle cx="318.91" cy="390.12" r="1.9" fill="#e6e6e6" stroke="#c4c4c4" stroke-width="0.75"/><circle cx="330.04" cy="390.12" r="2.35" fill="#6fbcea"/><circle cx="341.17" cy="390.12" r="2.7" fill="#3699de"/><circle cx="352.30" cy="390.12" r="2.35" fill="#6fbcea"/><circle cx="363.43" cy="390.12" r="2.6" fill="#f6bec0"/><circle cx="374.56" cy="390.12" r="1.9" fill="#e6e6e6" stroke="#c4c4c4" stroke-width="0.75"/><circle cx="385.69" cy="390.12" r="1.9" fill="#e6e6e6" stroke="#c4c4c4" stroke-width="0.75"/><circle cx="396.82" cy="390.12" r="1.9" fill="#e6e6e6" stroke="#c4c4c4" stroke-width="0.75"/><circle cx="407.95" cy="390.12" r="2.35" fill="#6fbcea"/><circle cx="419.08" cy="390.12" r="2.6" fill="#f6bec0"/><circle cx="430.21" cy="390.12" r="1.9" fill="#e6e6e6" stroke="#c4c4c4" stroke-width="0.75"/><circle cx="441.34" cy="390.12" r="2.7" fill="#3699de"/><circle cx="452.47" cy="390.12" r="2.35" fill="#6fbcea"/><circle cx="241.00" cy="400.54" r="2.6" fill="#f6bec0"/><circle cx="252.13" cy="400.54" r="2.6" fill="#f6bec0"/><circle cx="263.26" cy="400.54" r="2.35" fill="#6fbcea"/><circle cx="274.39" cy="400.54" r="2.8" fill="#f08a8c"/><circle cx="285.52" cy="400.54" r="2.6" fill="#f6bec0"/><circle cx="296.65" cy="400.54" r="2.7" fill="#3699de"/><circle cx="307.78" cy="400.54" r="2.6" fill="#f6bec0"/><circle cx="318.91" cy="400.54" r="2.6" fill="#f6bec0"/><circle cx="330.04" cy="400.54" r="2.35" fill="#6fbcea"/><circle cx="341.17" cy="400.54" r="2.7" fill="#3699de"/><circle cx="352.30" cy="400.54" r="2.35" fill="#6fbcea"/><circle cx="363.43" cy="400.54" r="1.9" fill="#e6e6e6" stroke="#c4c4c4" stroke-width="0.75"/><circle cx="374.56" cy="400.54" r="2.6" fill="#f6bec0"/><circle cx="385.69" cy="400.54" r="2.7" fill="#3699de"/><circle cx="396.82" cy="400.54" r="1.9" fill="#e6e6e6" stroke="#c4c4c4" stroke-width="0.75"/><circle cx="407.95" cy="400.54" r="1.9" fill="#e6e6e6" stroke="#c4c4c4" stroke-width="0.75"/><circle cx="419.08" cy="400.54" r="1.9" fill="#e6e6e6" stroke="#c4c4c4" stroke-width="0.75"/><circle cx="430.21" cy="400.54" r="2.6" fill="#f6bec0"/><circle cx="441.34" cy="400.54" r="2.7" fill="#3699de"/><circle cx="452.47" cy="400.54" r="2.35" fill="#6fbcea"/><circle cx="241.00" cy="410.96" r="2.6" fill="#f6bec0"/><circle cx="252.13" cy="410.96" r="1.9" fill="#e6e6e6" stroke="#c4c4c4" stroke-width="0.75"/><circle cx="263.26" cy="410.96" r="2.35" fill="#6fbcea"/><circle cx="274.39" cy="410.96" r="1.9" fill="#e6e6e6" stroke="#c4c4c4" stroke-width="0.75"/><circle cx="285.52" cy="410.96" r="1.9" fill="#e6e6e6" stroke="#c4c4c4" stroke-width="0.75"/><circle cx="296.65" cy="410.96" r="2.35" fill="#6fbcea"/><circle cx="307.78" cy="410.96" r="1.9" fill="#e6e6e6" stroke="#c4c4c4" stroke-width="0.75"/><circle cx="318.91" cy="410.96" r="1.9" fill="#e6e6e6" stroke="#c4c4c4" stroke-width="0.75"/><circle cx="330.04" cy="410.96" r="2.35" fill="#6fbcea"/><circle cx="341.17" cy="410.96" r="2.35" fill="#6fbcea"/><circle cx="352.30" cy="410.96" r="2.35" fill="#6fbcea"/><circle cx="363.43" cy="410.96" r="1.9" fill="#e6e6e6" stroke="#c4c4c4" stroke-width="0.75"/><circle cx="374.56" cy="410.96" r="1.9" fill="#e6e6e6" stroke="#c4c4c4" stroke-width="0.75"/><circle cx="385.69" cy="410.96" r="1.9" fill="#e6e6e6" stroke="#c4c4c4" stroke-width="0.75"/><circle cx="396.82" cy="410.96" r="1.9" fill="#e6e6e6" stroke="#c4c4c4" stroke-width="0.75"/><circle cx="407.95" cy="410.96" r="1.9" fill="#e6e6e6" stroke="#c4c4c4" stroke-width="0.75"/><circle cx="419.08" cy="410.96" r="2.6" fill="#f6bec0"/><circle cx="430.21" cy="410.96" r="1.9" fill="#e6e6e6" stroke="#c4c4c4" stroke-width="0.75"/><circle cx="441.34" cy="410.96" r="2.35" fill="#6fbcea"/><circle cx="452.47" cy="410.96" r="2.35" fill="#6fbcea"/><circle cx="241.00" cy="421.38" r="2.35" fill="#6fbcea"/><circle cx="252.13" cy="421.38" r="2.35" fill="#6fbcea"/><circle cx="263.26" cy="421.38" r="2.6" fill="#f6bec0"/><circle cx="274.39" cy="421.38" r="2.35" fill="#6fbcea"/><circle cx="285.52" cy="421.38" r="2.35" fill="#6fbcea"/><circle cx="296.65" cy="421.38" r="2.6" fill="#f6bec0"/><circle cx="307.78" cy="421.38" r="2.35" fill="#6fbcea"/><circle cx="318.91" cy="421.38" r="1.9" fill="#e6e6e6" stroke="#c4c4c4" stroke-width="0.75"/><circle cx="330.04" cy="421.38" r="2.6" fill="#f6bec0"/><circle cx="341.17" cy="421.38" r="1.9" fill="#e6e6e6" stroke="#c4c4c4" stroke-width="0.75"/><circle cx="352.30" cy="421.38" r="2.8" fill="#f08a8c"/><circle cx="363.43" cy="421.38" r="1.9" fill="#e6e6e6" stroke="#c4c4c4" stroke-width="0.75"/><circle cx="374.56" cy="421.38" r="2.7" fill="#3699de"/><circle cx="385.69" cy="421.38" r="2.6" fill="#f6bec0"/><circle cx="396.82" cy="421.38" r="2.6" fill="#f6bec0"/><circle cx="407.95" cy="421.38" r="2.6" fill="#f6bec0"/><circle cx="419.08" cy="421.38" r="2.35" fill="#6fbcea"/><circle cx="430.21" cy="421.38" r="2.35" fill="#6fbcea"/><circle cx="441.34" cy="421.38" r="2.6" fill="#f6bec0"/><circle cx="452.47" cy="421.38" r="2.6" fill="#f6bec0"/><circle cx="241.00" cy="431.80" r="2.6" fill="#f6bec0"/><circle cx="252.13" cy="431.80" r="1.9" fill="#e6e6e6" stroke="#c4c4c4" stroke-width="0.75"/><circle cx="263.26" cy="431.80" r="1.9" fill="#e6e6e6" stroke="#c4c4c4" stroke-width="0.75"/><circle cx="274.39" cy="431.80" r="2.6" fill="#f6bec0"/><circle cx="285.52" cy="431.80" r="1.9" fill="#e6e6e6" stroke="#c4c4c4" stroke-width="0.75"/><circle cx="296.65" cy="431.80" r="2.7" fill="#3699de"/><circle cx="307.78" cy="431.80" r="2.6" fill="#f6bec0"/><circle cx="318.91" cy="431.80" r="1.9" fill="#e6e6e6" stroke="#c4c4c4" stroke-width="0.75"/><circle cx="330.04" cy="431.80" r="2.35" fill="#6fbcea"/><circle cx="341.17" cy="431.80" r="2.35" fill="#6fbcea"/><circle cx="352.30" cy="431.80" r="2.85" fill="#2756a8"/><circle cx="363.43" cy="431.80" r="2.6" fill="#f6bec0"/><circle cx="374.56" cy="431.80" r="2.6" fill="#f6bec0"/><circle cx="385.69" cy="431.80" r="2.7" fill="#3699de"/><circle cx="396.82" cy="431.80" r="2.35" fill="#6fbcea"/><circle cx="407.95" cy="431.80" r="1.9" fill="#e6e6e6" stroke="#c4c4c4" stroke-width="0.75"/><circle cx="419.08" cy="431.80" r="1.9" fill="#e6e6e6" stroke="#c4c4c4" stroke-width="0.75"/><circle cx="430.21" cy="431.80" r="1.9" fill="#e6e6e6" stroke="#c4c4c4" stroke-width="0.75"/><circle cx="441.34" cy="431.80" r="1.9" fill="#e6e6e6" stroke="#c4c4c4" stroke-width="0.75"/><circle cx="452.47" cy="431.80" r="2.35" fill="#6fbcea"/><circle cx="241.00" cy="442.22" r="2.6" fill="#f6bec0"/><circle cx="252.13" cy="442.22" r="2.6" fill="#f6bec0"/><circle cx="263.26" cy="442.22" r="2.35" fill="#6fbcea"/><circle cx="274.39" cy="442.22" r="2.8" fill="#f08a8c"/><circle cx="285.52" cy="442.22" r="2.6" fill="#f6bec0"/><circle cx="296.65" cy="442.22" r="2.35" fill="#6fbcea"/><circle cx="307.78" cy="442.22" r="2.6" fill="#f6bec0"/><circle cx="318.91" cy="442.22" r="2.6" fill="#f6bec0"/><circle cx="330.04" cy="442.22" r="2.35" fill="#6fbcea"/><circle cx="341.17" cy="442.22" r="2.7" fill="#3699de"/><circle cx="352.30" cy="442.22" r="2.35" fill="#6fbcea"/><circle cx="363.43" cy="442.22" r="2.6" fill="#f6bec0"/><circle cx="374.56" cy="442.22" r="2.6" fill="#f6bec0"/><circle cx="385.69" cy="442.22" r="2.35" fill="#6fbcea"/><circle cx="396.82" cy="442.22" r="1.9" fill="#e6e6e6" stroke="#c4c4c4" stroke-width="0.75"/><circle cx="407.95" cy="442.22" r="1.9" fill="#e6e6e6" stroke="#c4c4c4" stroke-width="0.75"/><circle cx="419.08" cy="442.22" r="2.6" fill="#f6bec0"/><circle cx="430.21" cy="442.22" r="2.6" fill="#f6bec0"/><circle cx="441.34" cy="442.22" r="2.95" fill="#1b2558"/><circle cx="452.47" cy="442.22" r="2.35" fill="#6fbcea"/><circle cx="241.00" cy="452.64" r="2.6" fill="#f6bec0"/><circle cx="252.13" cy="452.64" r="1.9" fill="#e6e6e6" stroke="#c4c4c4" stroke-width="0.75"/><circle cx="263.26" cy="452.64" r="2.35" fill="#6fbcea"/><circle cx="274.39" cy="452.64" r="1.9" fill="#e6e6e6" stroke="#c4c4c4" stroke-width="0.75"/><circle cx="285.52" cy="452.64" r="1.9" fill="#e6e6e6" stroke="#c4c4c4" stroke-width="0.75"/><circle cx="296.65" cy="452.64" r="2.35" fill="#6fbcea"/><circle cx="307.78" cy="452.64" r="1.9" fill="#e6e6e6" stroke="#c4c4c4" stroke-width="0.75"/><circle cx="318.91" cy="452.64" r="1.9" fill="#e6e6e6" stroke="#c4c4c4" stroke-width="0.75"/><circle cx="330.04" cy="452.64" r="2.35" fill="#6fbcea"/><circle cx="341.17" cy="452.64" r="2.35" fill="#6fbcea"/><circle cx="352.30" cy="452.64" r="2.35" fill="#6fbcea"/><circle cx="363.43" cy="452.64" r="1.9" fill="#e6e6e6" stroke="#c4c4c4" stroke-width="0.75"/><circle cx="374.56" cy="452.64" r="1.9" fill="#e6e6e6" stroke="#c4c4c4" stroke-width="0.75"/><circle cx="385.69" cy="452.64" r="1.9" fill="#e6e6e6" stroke="#c4c4c4" stroke-width="0.75"/><circle cx="396.82" cy="452.64" r="1.9" fill="#e6e6e6" stroke="#c4c4c4" stroke-width="0.75"/><circle cx="407.95" cy="452.64" r="1.9" fill="#e6e6e6" stroke="#c4c4c4" stroke-width="0.75"/><circle cx="419.08" cy="452.64" r="2.6" fill="#f6bec0"/><circle cx="430.21" cy="452.64" r="1.9" fill="#e6e6e6" stroke="#c4c4c4" stroke-width="0.75"/><circle cx="441.34" cy="452.64" r="2.35" fill="#6fbcea"/><circle cx="452.47" cy="452.64" r="2.35" fill="#6fbcea"/><circle cx="241.00" cy="463.06" r="2.6" fill="#f6bec0"/><circle cx="252.13" cy="463.06" r="1.9" fill="#e6e6e6" stroke="#c4c4c4" stroke-width="0.75"/><circle cx="263.26" cy="463.06" r="2.35" fill="#6fbcea"/><circle cx="274.39" cy="463.06" r="2.6" fill="#f6bec0"/><circle cx="285.52" cy="463.06" r="2.6" fill="#f6bec0"/><circle cx="296.65" cy="463.06" r="2.7" fill="#3699de"/><circle cx="307.78" cy="463.06" r="2.6" fill="#f6bec0"/><circle cx="318.91" cy="463.06" r="2.6" fill="#f6bec0"/><circle cx="330.04" cy="463.06" r="2.35" fill="#6fbcea"/><circle cx="341.17" cy="463.06" r="2.7" fill="#3699de"/><circle cx="352.30" cy="463.06" r="2.35" fill="#6fbcea"/><circle cx="363.43" cy="463.06" r="1.9" fill="#e6e6e6" stroke="#c4c4c4" stroke-width="0.75"/><circle cx="374.56" cy="463.06" r="1.9" fill="#e6e6e6" stroke="#c4c4c4" stroke-width="0.75"/><circle cx="385.69" cy="463.06" r="2.35" fill="#6fbcea"/><circle cx="396.82" cy="463.06" r="1.9" fill="#e6e6e6" stroke="#c4c4c4" stroke-width="0.75"/><circle cx="407.95" cy="463.06" r="1.9" fill="#e6e6e6" stroke="#c4c4c4" stroke-width="0.75"/><circle cx="419.08" cy="463.06" r="1.9" fill="#e6e6e6" stroke="#c4c4c4" stroke-width="0.75"/><circle cx="430.21" cy="463.06" r="2.6" fill="#f6bec0"/><circle cx="441.34" cy="463.06" r="2.7" fill="#3699de"/><circle cx="452.47" cy="463.06" r="1.9" fill="#e6e6e6" stroke="#c4c4c4" stroke-width="0.75"/><circle cx="241.00" cy="473.48" r="2.6" fill="#f6bec0"/><circle cx="252.13" cy="473.48" r="2.6" fill="#f6bec0"/><circle cx="263.26" cy="473.48" r="2.35" fill="#6fbcea"/><circle cx="274.39" cy="473.48" r="2.6" fill="#f6bec0"/><circle cx="285.52" cy="473.48" r="2.6" fill="#f6bec0"/><circle cx="296.65" cy="473.48" r="2.7" fill="#3699de"/><circle cx="307.78" cy="473.48" r="1.9" fill="#e6e6e6" stroke="#c4c4c4" stroke-width="0.75"/><circle cx="318.91" cy="473.48" r="1.9" fill="#e6e6e6" stroke="#c4c4c4" stroke-width="0.75"/><circle cx="330.04" cy="473.48" r="2.7" fill="#3699de"/><circle cx="341.17" cy="473.48" r="2.35" fill="#6fbcea"/><circle cx="352.30" cy="473.48" r="2.35" fill="#6fbcea"/><circle cx="363.43" cy="473.48" r="2.6" fill="#f6bec0"/><circle cx="374.56" cy="473.48" r="2.6" fill="#f6bec0"/><circle cx="385.69" cy="473.48" r="2.35" fill="#6fbcea"/><circle cx="396.82" cy="473.48" r="2.7" fill="#3699de"/><circle cx="407.95" cy="473.48" r="2.7" fill="#3699de"/><circle cx="419.08" cy="473.48" r="2.6" fill="#f6bec0"/><circle cx="430.21" cy="473.48" r="2.6" fill="#f6bec0"/><circle cx="441.34" cy="473.48" r="1.9" fill="#e6e6e6" stroke="#c4c4c4" stroke-width="0.75"/><circle cx="452.47" cy="473.48" r="2.7" fill="#3699de"/><circle cx="241.00" cy="483.90" r="2.6" fill="#f6bec0"/><circle cx="252.13" cy="483.90" r="2.6" fill="#f6bec0"/><circle cx="263.26" cy="483.90" r="2.35" fill="#6fbcea"/><circle cx="274.39" cy="483.90" r="1.9" fill="#e6e6e6" stroke="#c4c4c4" stroke-width="0.75"/><circle cx="285.52" cy="483.90" r="1.9" fill="#e6e6e6" stroke="#c4c4c4" stroke-width="0.75"/><circle cx="296.65" cy="483.90" r="2.35" fill="#6fbcea"/><circle cx="307.78" cy="483.90" r="1.9" fill="#e6e6e6" stroke="#c4c4c4" stroke-width="0.75"/><circle cx="318.91" cy="483.90" r="1.9" fill="#e6e6e6" stroke="#c4c4c4" stroke-width="0.75"/><circle cx="330.04" cy="483.90" r="2.35" fill="#6fbcea"/><circle cx="341.17" cy="483.90" r="2.7" fill="#3699de"/><circle cx="352.30" cy="483.90" r="1.9" fill="#e6e6e6" stroke="#c4c4c4" stroke-width="0.75"/><circle cx="363.43" cy="483.90" r="2.6" fill="#f6bec0"/><circle cx="374.56" cy="483.90" r="1.9" fill="#e6e6e6" stroke="#c4c4c4" stroke-width="0.75"/><circle cx="385.69" cy="483.90" r="1.9" fill="#e6e6e6" stroke="#c4c4c4" stroke-width="0.75"/><circle cx="396.82" cy="483.90" r="1.9" fill="#e6e6e6" stroke="#c4c4c4" stroke-width="0.75"/><circle cx="407.95" cy="483.90" r="1.9" fill="#e6e6e6" stroke="#c4c4c4" stroke-width="0.75"/><circle cx="419.08" cy="483.90" r="2.6" fill="#f6bec0"/><circle cx="430.21" cy="483.90" r="1.9" fill="#e6e6e6" stroke="#c4c4c4" stroke-width="0.75"/><circle cx="441.34" cy="483.90" r="2.35" fill="#6fbcea"/><circle cx="452.47" cy="483.90" r="2.35" fill="#6fbcea"/><circle cx="241.00" cy="494.32" r="2.6" fill="#f6bec0"/><circle cx="252.13" cy="494.32" r="2.6" fill="#f6bec0"/><circle cx="263.26" cy="494.32" r="2.35" fill="#6fbcea"/><circle cx="274.39" cy="494.32" r="1.9" fill="#e6e6e6" stroke="#c4c4c4" stroke-width="0.75"/><circle cx="285.52" cy="494.32" r="2.6" fill="#f6bec0"/><circle cx="296.65" cy="494.32" r="2.7" fill="#3699de"/><circle cx="307.78" cy="494.32" r="1.9" fill="#e6e6e6" stroke="#c4c4c4" stroke-width="0.75"/><circle cx="318.91" cy="494.32" r="1.9" fill="#e6e6e6" stroke="#c4c4c4" stroke-width="0.75"/><circle cx="330.04" cy="494.32" r="2.35" fill="#6fbcea"/><circle cx="341.17" cy="494.32" r="2.35" fill="#6fbcea"/><circle cx="352.30" cy="494.32" r="2.35" fill="#6fbcea"/><circle cx="363.43" cy="494.32" r="1.9" fill="#e6e6e6" stroke="#c4c4c4" stroke-width="0.75"/><circle cx="374.56" cy="494.32" r="2.6" fill="#f6bec0"/><circle cx="385.69" cy="494.32" r="1.9" fill="#e6e6e6" stroke="#c4c4c4" stroke-width="0.75"/><circle cx="396.82" cy="494.32" r="2.35" fill="#6fbcea"/><circle cx="407.95" cy="494.32" r="2.35" fill="#6fbcea"/><circle cx="419.08" cy="494.32" r="2.6" fill="#f6bec0"/><circle cx="430.21" cy="494.32" r="2.6" fill="#f6bec0"/><circle cx="441.34" cy="494.32" r="2.35" fill="#6fbcea"/><circle cx="452.47" cy="494.32" r="2.7" fill="#3699de"/><circle cx="241.00" cy="504.74" r="2.6" fill="#f6bec0"/><circle cx="252.13" cy="504.74" r="2.6" fill="#f6bec0"/><circle cx="263.26" cy="504.74" r="2.35" fill="#6fbcea"/><circle cx="274.39" cy="504.74" r="2.6" fill="#f6bec0"/><circle cx="285.52" cy="504.74" r="2.6" fill="#f6bec0"/><circle cx="296.65" cy="504.74" r="2.35" fill="#6fbcea"/><circle cx="307.78" cy="504.74" r="2.6" fill="#f6bec0"/><circle cx="318.91" cy="504.74" r="1.9" fill="#e6e6e6" stroke="#c4c4c4" stroke-width="0.75"/><circle cx="330.04" cy="504.74" r="2.85" fill="#2756a8"/><circle cx="341.17" cy="504.74" r="2.35" fill="#6fbcea"/><circle cx="352.30" cy="504.74" r="2.35" fill="#6fbcea"/><circle cx="363.43" cy="504.74" r="2.6" fill="#f6bec0"/><circle cx="374.56" cy="504.74" r="2.6" fill="#f6bec0"/><circle cx="385.69" cy="504.74" r="2.35" fill="#6fbcea"/><circle cx="396.82" cy="504.74" r="2.35" fill="#6fbcea"/><circle cx="407.95" cy="504.74" r="2.85" fill="#2756a8"/><circle cx="419.08" cy="504.74" r="2.6" fill="#f6bec0"/><circle cx="430.21" cy="504.74" r="2.6" fill="#f6bec0"/><circle cx="441.34" cy="504.74" r="2.7" fill="#3699de"/><circle cx="452.47" cy="504.74" r="2.7" fill="#3699de"/><circle cx="241.00" cy="515.16" r="2.35" fill="#6fbcea"/><circle cx="252.13" cy="515.16" r="2.35" fill="#6fbcea"/><circle cx="263.26" cy="515.16" r="2.6" fill="#f6bec0"/><circle cx="274.39" cy="515.16" r="2.35" fill="#6fbcea"/><circle cx="285.52" cy="515.16" r="2.7" fill="#3699de"/><circle cx="296.65" cy="515.16" r="2.6" fill="#f6bec0"/><circle cx="307.78" cy="515.16" r="2.35" fill="#6fbcea"/><circle cx="318.91" cy="515.16" r="2.85" fill="#2756a8"/><circle cx="330.04" cy="515.16" r="1.9" fill="#e6e6e6" stroke="#c4c4c4" stroke-width="0.75"/><circle cx="341.17" cy="515.16" r="2.6" fill="#f6bec0"/><circle cx="352.30" cy="515.16" r="1.9" fill="#e6e6e6" stroke="#c4c4c4" stroke-width="0.75"/><circle cx="363.43" cy="515.16" r="1.9" fill="#e6e6e6" stroke="#c4c4c4" stroke-width="0.75"/><circle cx="374.56" cy="515.16" r="2.35" fill="#6fbcea"/><circle cx="385.69" cy="515.16" r="2.6" fill="#f6bec0"/><circle cx="396.82" cy="515.16" r="2.6" fill="#f6bec0"/><circle cx="407.95" cy="515.16" r="1.9" fill="#e6e6e6" stroke="#c4c4c4" stroke-width="0.75"/><circle cx="419.08" cy="515.16" r="2.35" fill="#6fbcea"/><circle cx="430.21" cy="515.16" r="2.85" fill="#2756a8"/><circle cx="441.34" cy="515.16" r="2.6" fill="#f6bec0"/><circle cx="452.47" cy="515.16" r="2.6" fill="#f6bec0"/><circle cx="241.00" cy="525.58" r="2.6" fill="#f6bec0"/><circle cx="252.13" cy="525.58" r="2.6" fill="#f6bec0"/><circle cx="263.26" cy="525.58" r="1.9" fill="#e6e6e6" stroke="#c4c4c4" stroke-width="0.75"/><circle cx="274.39" cy="525.58" r="2.6" fill="#f6bec0"/><circle cx="285.52" cy="525.58" r="2.6" fill="#f6bec0"/><circle cx="296.65" cy="525.58" r="2.95" fill="#1b2558"/><circle cx="307.78" cy="525.58" r="2.6" fill="#f6bec0"/><circle cx="318.91" cy="525.58" r="2.6" fill="#f6bec0"/><circle cx="330.04" cy="525.58" r="2.35" fill="#6fbcea"/><circle cx="341.17" cy="525.58" r="2.35" fill="#6fbcea"/><circle cx="352.30" cy="525.58" r="2.85" fill="#2756a8"/><circle cx="363.43" cy="525.58" r="1.9" fill="#e6e6e6" stroke="#c4c4c4" stroke-width="0.75"/><circle cx="374.56" cy="525.58" r="2.6" fill="#f6bec0"/><circle cx="385.69" cy="525.58" r="2.7" fill="#3699de"/><circle cx="396.82" cy="525.58" r="2.35" fill="#6fbcea"/><circle cx="407.95" cy="525.58" r="2.35" fill="#6fbcea"/><circle cx="419.08" cy="525.58" r="2.6" fill="#f6bec0"/><circle cx="430.21" cy="525.58" r="2.6" fill="#f6bec0"/><circle cx="441.34" cy="525.58" r="2.35" fill="#6fbcea"/><circle cx="452.47" cy="525.58" r="2.35" fill="#6fbcea"/><circle cx="241.00" cy="536.00" r="2.6" fill="#f6bec0"/><circle cx="252.13" cy="536.00" r="2.6" fill="#f6bec0"/><circle cx="263.26" cy="536.00" r="2.7" fill="#3699de"/><circle cx="274.39" cy="536.00" r="1.9" fill="#e6e6e6" stroke="#c4c4c4" stroke-width="0.75"/><circle cx="285.52" cy="536.00" r="1.9" fill="#e6e6e6" stroke="#c4c4c4" stroke-width="0.75"/><circle cx="296.65" cy="536.00" r="1.9" fill="#e6e6e6" stroke="#c4c4c4" stroke-width="0.75"/><circle cx="307.78" cy="536.00" r="1.9" fill="#e6e6e6" stroke="#c4c4c4" stroke-width="0.75"/><circle cx="318.91" cy="536.00" r="1.9" fill="#e6e6e6" stroke="#c4c4c4" stroke-width="0.75"/><circle cx="330.04" cy="536.00" r="2.35" fill="#6fbcea"/><circle cx="341.17" cy="536.00" r="2.35" fill="#6fbcea"/><circle cx="352.30" cy="536.00" r="2.35" fill="#6fbcea"/><circle cx="363.43" cy="536.00" r="2.6" fill="#f6bec0"/><circle cx="374.56" cy="536.00" r="2.6" fill="#f6bec0"/><circle cx="385.69" cy="536.00" r="1.9" fill="#e6e6e6" stroke="#c4c4c4" stroke-width="0.75"/><circle cx="396.82" cy="536.00" r="2.35" fill="#6fbcea"/><circle cx="407.95" cy="536.00" r="2.35" fill="#6fbcea"/><circle cx="419.08" cy="536.00" r="2.6" fill="#f6bec0"/><circle cx="430.21" cy="536.00" r="1.9" fill="#e6e6e6" stroke="#c4c4c4" stroke-width="0.75"/><circle cx="441.34" cy="536.00" r="2.35" fill="#6fbcea"/><circle cx="452.47" cy="536.00" r="2.35" fill="#6fbcea"/><circle cx="241.00" cy="546.42" r="2.6" fill="#f6bec0"/><circle cx="252.13" cy="546.42" r="2.6" fill="#f6bec0"/><circle cx="263.26" cy="546.42" r="1.9" fill="#e6e6e6" stroke="#c4c4c4" stroke-width="0.75"/><circle cx="274.39" cy="546.42" r="2.95" fill="#ee4a4f"/><circle cx="285.52" cy="546.42" r="2.6" fill="#f6bec0"/><circle cx="296.65" cy="546.42" r="2.7" fill="#3699de"/><circle cx="307.78" cy="546.42" r="2.6" fill="#f6bec0"/><circle cx="318.91" cy="546.42" r="1.9" fill="#e6e6e6" stroke="#c4c4c4" stroke-width="0.75"/><circle cx="330.04" cy="546.42" r="2.35" fill="#6fbcea"/><circle cx="341.17" cy="546.42" r="2.35" fill="#6fbcea"/><circle cx="352.30" cy="546.42" r="2.7" fill="#3699de"/><circle cx="363.43" cy="546.42" r="2.6" fill="#f6bec0"/><circle cx="374.56" cy="546.42" r="2.6" fill="#f6bec0"/><circle cx="385.69" cy="546.42" r="2.7" fill="#3699de"/><circle cx="396.82" cy="546.42" r="2.35" fill="#6fbcea"/><circle cx="407.95" cy="546.42" r="1.9" fill="#e6e6e6" stroke="#c4c4c4" stroke-width="0.75"/><circle cx="419.08" cy="546.42" r="1.9" fill="#e6e6e6" stroke="#c4c4c4" stroke-width="0.75"/><circle cx="430.21" cy="546.42" r="1.9" fill="#e6e6e6" stroke="#c4c4c4" stroke-width="0.75"/><circle cx="441.34" cy="546.42" r="2.35" fill="#6fbcea"/><circle cx="452.47" cy="546.42" r="2.35" fill="#6fbcea"/><circle cx="241.00" cy="556.84" r="1.9" fill="#e6e6e6" stroke="#c4c4c4" stroke-width="0.75"/><circle cx="252.13" cy="556.84" r="1.9" fill="#e6e6e6" stroke="#c4c4c4" stroke-width="0.75"/><circle cx="263.26" cy="556.84" r="1.9" fill="#e6e6e6" stroke="#c4c4c4" stroke-width="0.75"/><circle cx="274.39" cy="556.84" r="1.9" fill="#e6e6e6" stroke="#c4c4c4" stroke-width="0.75"/><circle cx="285.52" cy="556.84" r="1.9" fill="#e6e6e6" stroke="#c4c4c4" stroke-width="0.75"/><circle cx="296.65" cy="556.84" r="2.35" fill="#6fbcea"/><circle cx="307.78" cy="556.84" r="1.9" fill="#e6e6e6" stroke="#c4c4c4" stroke-width="0.75"/><circle cx="318.91" cy="556.84" r="1.9" fill="#e6e6e6" stroke="#c4c4c4" stroke-width="0.75"/><circle cx="330.04" cy="556.84" r="2.35" fill="#6fbcea"/><circle cx="341.17" cy="556.84" r="1.9" fill="#e6e6e6" stroke="#c4c4c4" stroke-width="0.75"/><circle cx="352.30" cy="556.84" r="2.7" fill="#3699de"/><circle cx="363.43" cy="556.84" r="1.9" fill="#e6e6e6" stroke="#c4c4c4" stroke-width="0.75"/><circle cx="374.56" cy="556.84" r="2.6" fill="#f6bec0"/><circle cx="385.69" cy="556.84" r="2.35" fill="#6fbcea"/><circle cx="396.82" cy="556.84" r="2.35" fill="#6fbcea"/><circle cx="407.95" cy="556.84" r="1.9" fill="#e6e6e6" stroke="#c4c4c4" stroke-width="0.75"/><circle cx="419.08" cy="556.84" r="1.9" fill="#e6e6e6" stroke="#c4c4c4" stroke-width="0.75"/><circle cx="430.21" cy="556.84" r="2.6" fill="#f6bec0"/><circle cx="441.34" cy="556.84" r="1.9" fill="#e6e6e6" stroke="#c4c4c4" stroke-width="0.75"/><circle cx="452.47" cy="556.84" r="2.35" fill="#6fbcea"/><circle cx="241.00" cy="567.26" r="2.6" fill="#f6bec0"/><circle cx="252.13" cy="567.26" r="2.6" fill="#f6bec0"/><circle cx="263.26" cy="567.26" r="2.35" fill="#6fbcea"/><circle cx="274.39" cy="567.26" r="2.6" fill="#f6bec0"/><circle cx="285.52" cy="567.26" r="2.6" fill="#f6bec0"/><circle cx="296.65" cy="567.26" r="2.35" fill="#6fbcea"/><circle cx="307.78" cy="567.26" r="2.6" fill="#f6bec0"/><circle cx="318.91" cy="567.26" r="1.9" fill="#e6e6e6" stroke="#c4c4c4" stroke-width="0.75"/><circle cx="330.04" cy="567.26" r="2.85" fill="#2756a8"/><circle cx="341.17" cy="567.26" r="1.9" fill="#e6e6e6" stroke="#c4c4c4" stroke-width="0.75"/><circle cx="352.30" cy="567.26" r="2.7" fill="#3699de"/><circle cx="363.43" cy="567.26" r="2.6" fill="#f6bec0"/><circle cx="374.56" cy="567.26" r="2.6" fill="#f6bec0"/><circle cx="385.69" cy="567.26" r="2.35" fill="#6fbcea"/><circle cx="396.82" cy="567.26" r="2.35" fill="#6fbcea"/><circle cx="407.95" cy="567.26" r="2.35" fill="#6fbcea"/><circle cx="419.08" cy="567.26" r="2.6" fill="#f6bec0"/><circle cx="430.21" cy="567.26" r="1.9" fill="#e6e6e6" stroke="#c4c4c4" stroke-width="0.75"/><circle cx="441.34" cy="567.26" r="2.35" fill="#6fbcea"/><circle cx="452.47" cy="567.26" r="2.7" fill="#3699de"/><circle cx="241.00" cy="577.68" r="2.6" fill="#f6bec0"/><circle cx="252.13" cy="577.68" r="2.6" fill="#f6bec0"/><circle cx="263.26" cy="577.68" r="2.35" fill="#6fbcea"/><circle cx="274.39" cy="577.68" r="1.9" fill="#e6e6e6" stroke="#c4c4c4" stroke-width="0.75"/><circle cx="285.52" cy="577.68" r="2.6" fill="#f6bec0"/><circle cx="296.65" cy="577.68" r="2.35" fill="#6fbcea"/><circle cx="307.78" cy="577.68" r="1.9" fill="#e6e6e6" stroke="#c4c4c4" stroke-width="0.75"/><circle cx="318.91" cy="577.68" r="1.9" fill="#e6e6e6" stroke="#c4c4c4" stroke-width="0.75"/><circle cx="330.04" cy="577.68" r="2.7" fill="#3699de"/><circle cx="341.17" cy="577.68" r="2.35" fill="#6fbcea"/><circle cx="352.30" cy="577.68" r="2.35" fill="#6fbcea"/><circle cx="363.43" cy="577.68" r="2.6" fill="#f6bec0"/><circle cx="374.56" cy="577.68" r="2.6" fill="#f6bec0"/><circle cx="385.69" cy="577.68" r="1.9" fill="#e6e6e6" stroke="#c4c4c4" stroke-width="0.75"/><circle cx="396.82" cy="577.68" r="2.7" fill="#3699de"/><circle cx="407.95" cy="577.68" r="2.7" fill="#3699de"/><circle cx="419.08" cy="577.68" r="2.6" fill="#f6bec0"/><circle cx="430.21" cy="577.68" r="2.6" fill="#f6bec0"/><circle cx="441.34" cy="577.68" r="1.9" fill="#e6e6e6" stroke="#c4c4c4" stroke-width="0.75"/><circle cx="452.47" cy="577.68" r="2.85" fill="#2756a8"/><circle cx="241.00" cy="588.10" r="1.9" fill="#e6e6e6" stroke="#c4c4c4" stroke-width="0.75"/><circle cx="252.13" cy="588.10" r="2.6" fill="#f6bec0"/><circle cx="263.26" cy="588.10" r="2.35" fill="#6fbcea"/><circle cx="274.39" cy="588.10" r="2.6" fill="#f6bec0"/><circle cx="285.52" cy="588.10" r="2.6" fill="#f6bec0"/><circle cx="296.65" cy="588.10" r="1.9" fill="#e6e6e6" stroke="#c4c4c4" stroke-width="0.75"/><circle cx="307.78" cy="588.10" r="2.6" fill="#f6bec0"/><circle cx="318.91" cy="588.10" r="1.9" fill="#e6e6e6" stroke="#c4c4c4" stroke-width="0.75"/><circle cx="330.04" cy="588.10" r="2.7" fill="#3699de"/><circle cx="341.17" cy="588.10" r="1.9" fill="#e6e6e6" stroke="#c4c4c4" stroke-width="0.75"/><circle cx="352.30" cy="588.10" r="2.35" fill="#6fbcea"/><circle cx="363.43" cy="588.10" r="2.6" fill="#f6bec0"/><circle cx="374.56" cy="588.10" r="2.6" fill="#f6bec0"/><circle cx="385.69" cy="588.10" r="2.35" fill="#6fbcea"/><circle cx="396.82" cy="588.10" r="2.35" fill="#6fbcea"/><circle cx="407.95" cy="588.10" r="1.9" fill="#e6e6e6" stroke="#c4c4c4" stroke-width="0.75"/><circle cx="419.08" cy="588.10" r="2.6" fill="#f6bec0"/><circle cx="430.21" cy="588.10" r="1.9" fill="#e6e6e6" stroke="#c4c4c4" stroke-width="0.75"/><circle cx="441.34" cy="588.10" r="2.7" fill="#3699de"/><circle cx="452.47" cy="588.10" r="2.35" fill="#6fbcea"/><circle cx="241.00" cy="598.52" r="2.6" fill="#f6bec0"/><circle cx="252.13" cy="598.52" r="1.9" fill="#e6e6e6" stroke="#c4c4c4" stroke-width="0.75"/><circle cx="263.26" cy="598.52" r="2.35" fill="#6fbcea"/><circle cx="274.39" cy="598.52" r="2.6" fill="#f6bec0"/><circle cx="285.52" cy="598.52" r="1.9" fill="#e6e6e6" stroke="#c4c4c4" stroke-width="0.75"/><circle cx="296.65" cy="598.52" r="2.7" fill="#3699de"/><circle cx="307.78" cy="598.52" r="1.9" fill="#e6e6e6" stroke="#c4c4c4" stroke-width="0.75"/><circle cx="318.91" cy="598.52" r="1.9" fill="#e6e6e6" stroke="#c4c4c4" stroke-width="0.75"/><circle cx="330.04" cy="598.52" r="2.35" fill="#6fbcea"/><circle cx="341.17" cy="598.52" r="2.35" fill="#6fbcea"/><circle cx="352.30" cy="598.52" r="2.7" fill="#3699de"/><circle cx="363.43" cy="598.52" r="1.9" fill="#e6e6e6" stroke="#c4c4c4" stroke-width="0.75"/><circle cx="374.56" cy="598.52" r="2.6" fill="#f6bec0"/><circle cx="385.69" cy="598.52" r="2.35" fill="#6fbcea"/><circle cx="396.82" cy="598.52" r="1.9" fill="#e6e6e6" stroke="#c4c4c4" stroke-width="0.75"/><circle cx="407.95" cy="598.52" r="2.35" fill="#6fbcea"/><circle cx="419.08" cy="598.52" r="2.6" fill="#f6bec0"/><circle cx="430.21" cy="598.52" r="2.6" fill="#f6bec0"/><circle cx="441.34" cy="598.52" r="2.35" fill="#6fbcea"/><circle cx="452.47" cy="598.52" r="2.35" fill="#6fbcea"/><circle cx="241.00" cy="608.94" r="2.6" fill="#f6bec0"/><circle cx="252.13" cy="608.94" r="2.6" fill="#f6bec0"/><circle cx="263.26" cy="608.94" r="2.35" fill="#6fbcea"/><circle cx="274.39" cy="608.94" r="1.9" fill="#e6e6e6" stroke="#c4c4c4" stroke-width="0.75"/><circle cx="285.52" cy="608.94" r="2.6" fill="#f6bec0"/><circle cx="296.65" cy="608.94" r="2.35" fill="#6fbcea"/><circle cx="307.78" cy="608.94" r="1.9" fill="#e6e6e6" stroke="#c4c4c4" stroke-width="0.75"/><circle cx="318.91" cy="608.94" r="1.9" fill="#e6e6e6" stroke="#c4c4c4" stroke-width="0.75"/><circle cx="330.04" cy="608.94" r="2.7" fill="#3699de"/><circle cx="341.17" cy="608.94" r="2.35" fill="#6fbcea"/><circle cx="352.30" cy="608.94" r="2.35" fill="#6fbcea"/><circle cx="363.43" cy="608.94" r="2.6" fill="#f6bec0"/><circle cx="374.56" cy="608.94" r="2.6" fill="#f6bec0"/><circle cx="385.69" cy="608.94" r="1.9" fill="#e6e6e6" stroke="#c4c4c4" stroke-width="0.75"/><circle cx="396.82" cy="608.94" r="2.85" fill="#2756a8"/><circle cx="407.95" cy="608.94" r="2.85" fill="#2756a8"/><circle cx="419.08" cy="608.94" r="2.6" fill="#f6bec0"/><circle cx="430.21" cy="608.94" r="2.6" fill="#f6bec0"/><circle cx="441.34" cy="608.94" r="2.35" fill="#6fbcea"/><circle cx="452.47" cy="608.94" r="2.85" fill="#2756a8"/><circle cx="241.00" cy="619.36" r="2.7" fill="#3699de"/><circle cx="252.13" cy="619.36" r="2.35" fill="#6fbcea"/><circle cx="263.26" cy="619.36" r="2.6" fill="#f6bec0"/><circle cx="274.39" cy="619.36" r="2.35" fill="#6fbcea"/><circle cx="285.52" cy="619.36" r="2.35" fill="#6fbcea"/><circle cx="296.65" cy="619.36" r="2.6" fill="#f6bec0"/><circle cx="307.78" cy="619.36" r="1.9" fill="#e6e6e6" stroke="#c4c4c4" stroke-width="0.75"/><circle cx="318.91" cy="619.36" r="2.35" fill="#6fbcea"/><circle cx="330.04" cy="619.36" r="2.6" fill="#f6bec0"/><circle cx="341.17" cy="619.36" r="2.6" fill="#f6bec0"/><circle cx="352.30" cy="619.36" r="1.9" fill="#e6e6e6" stroke="#c4c4c4" stroke-width="0.75"/><circle cx="363.43" cy="619.36" r="1.9" fill="#e6e6e6" stroke="#c4c4c4" stroke-width="0.75"/><circle cx="374.56" cy="619.36" r="2.35" fill="#6fbcea"/><circle cx="385.69" cy="619.36" r="1.9" fill="#e6e6e6" stroke="#c4c4c4" stroke-width="0.75"/><circle cx="396.82" cy="619.36" r="1.9" fill="#e6e6e6" stroke="#c4c4c4" stroke-width="0.75"/><circle cx="407.95" cy="619.36" r="2.6" fill="#f6bec0"/><circle cx="419.08" cy="619.36" r="2.35" fill="#6fbcea"/><circle cx="430.21" cy="619.36" r="2.35" fill="#6fbcea"/><circle cx="441.34" cy="619.36" r="2.6" fill="#f6bec0"/><circle cx="452.47" cy="619.36" r="2.6" fill="#f6bec0"/><circle cx="241.00" cy="629.78" r="2.6" fill="#f6bec0"/><circle cx="252.13" cy="629.78" r="2.6" fill="#f6bec0"/><circle cx="263.26" cy="629.78" r="2.7" fill="#3699de"/><circle cx="274.39" cy="629.78" r="2.6" fill="#f6bec0"/><circle cx="285.52" cy="629.78" r="2.8" fill="#f08a8c"/><circle cx="296.65" cy="629.78" r="2.35" fill="#6fbcea"/><circle cx="307.78" cy="629.78" r="2.8" fill="#f08a8c"/><circle cx="318.91" cy="629.78" r="2.6" fill="#f6bec0"/><circle cx="330.04" cy="629.78" r="2.35" fill="#6fbcea"/><circle cx="341.17" cy="629.78" r="2.35" fill="#6fbcea"/><circle cx="352.30" cy="629.78" r="2.35" fill="#6fbcea"/><circle cx="363.43" cy="629.78" r="2.6" fill="#f6bec0"/><circle cx="374.56" cy="629.78" r="2.6" fill="#f6bec0"/><circle cx="385.69" cy="629.78" r="2.35" fill="#6fbcea"/><circle cx="396.82" cy="629.78" r="1.9" fill="#e6e6e6" stroke="#c4c4c4" stroke-width="0.75"/><circle cx="407.95" cy="629.78" r="1.9" fill="#e6e6e6" stroke="#c4c4c4" stroke-width="0.75"/><circle cx="419.08" cy="629.78" r="2.6" fill="#f6bec0"/><circle cx="430.21" cy="629.78" r="2.6" fill="#f6bec0"/><circle cx="441.34" cy="629.78" r="2.95" fill="#1b2558"/><circle cx="452.47" cy="629.78" r="2.35" fill="#6fbcea"/>
<text x="231.90" y="329.70" font-size="6.25" text-anchor="end" fill="#262626">Urapidil</text>
<line x1="232.4" y1="327.60" x2="234.0" y2="327.60" stroke="#888" stroke-width="0.45"/>
<text x="231.90" y="340.12" font-size="6.25" text-anchor="end" fill="#262626">Dodecanoylcarnitine</text>
<line x1="232.4" y1="338.02" x2="234.0" y2="338.02" stroke="#888" stroke-width="0.45"/>
<text x="231.90" y="350.54" font-size="6.25" text-anchor="end" fill="#262626">(4,8,8-trimethyldecahydro-1,4-methanoazulen-9-yl)methanol</text>
<line x1="232.4" y1="348.44" x2="234.0" y2="348.44" stroke="#888" stroke-width="0.45"/>
<text x="231.90" y="360.96" font-size="6.25" text-anchor="end" fill="#262626">2-Hydroxyhexadecanoic acid</text>
<line x1="232.4" y1="358.86" x2="234.0" y2="358.86" stroke="#888" stroke-width="0.45"/>
<text x="231.90" y="371.38" font-size="6.25" text-anchor="end" fill="#262626">(S)-beta-hydroxy-L-tryptophan</text>
<line x1="232.4" y1="369.28" x2="234.0" y2="369.28" stroke="#888" stroke-width="0.45"/>
<text x="231.90" y="381.80" font-size="6.25" text-anchor="end" fill="#262626">(6Z,10Z,14Z)-Hexadeca-6,10,14-trienoylcarnitine</text>
<line x1="232.4" y1="379.70" x2="234.0" y2="379.70" stroke="#888" stroke-width="0.45"/>
<text x="231.90" y="392.22" font-size="6.25" text-anchor="end" fill="#262626">Sachaloside VII</text>
<line x1="232.4" y1="390.12" x2="234.0" y2="390.12" stroke="#888" stroke-width="0.45"/>
<text x="231.90" y="402.64" font-size="6.25" text-anchor="end" fill="#262626">Dodec-8-enedioylcarnitine</text>
<line x1="232.4" y1="400.54" x2="234.0" y2="400.54" stroke="#888" stroke-width="0.45"/>
<text x="231.90" y="413.06" font-size="6.25" text-anchor="end" fill="#262626">Aminocaproic acid</text>
<line x1="232.4" y1="410.96" x2="234.0" y2="410.96" stroke="#888" stroke-width="0.45"/>
<text x="231.90" y="423.48" font-size="6.25" text-anchor="end" fill="#262626">Fluorescamine</text>
<line x1="232.4" y1="421.38" x2="234.0" y2="421.38" stroke="#888" stroke-width="0.45"/>
<text x="231.90" y="433.90" font-size="6.25" text-anchor="end" fill="#262626">Linoleoylcarnitine</text>
<line x1="232.4" y1="431.80" x2="234.0" y2="431.80" stroke="#888" stroke-width="0.45"/>
<text x="231.90" y="444.32" font-size="6.25" text-anchor="end" fill="#262626">6alpha-Fluoro-17beta-hydroxyandrost-4-en-3-one acetate</text>
<line x1="232.4" y1="442.22" x2="234.0" y2="442.22" stroke="#888" stroke-width="0.45"/>
<text x="231.90" y="454.74" font-size="6.25" text-anchor="end" fill="#262626">Butabarbital</text>
<line x1="232.4" y1="452.64" x2="234.0" y2="452.64" stroke="#888" stroke-width="0.45"/>
<text x="231.90" y="465.16" font-size="6.25" text-anchor="end" fill="#262626">Cys Glu Arg</text>
<line x1="232.4" y1="463.06" x2="234.0" y2="463.06" stroke="#888" stroke-width="0.45"/>
<text x="231.90" y="475.58" font-size="6.25" text-anchor="end" fill="#262626">(9Z,11E,13Z)-Octadeca-9,11,13-trienoylcarnitine</text>
<line x1="232.4" y1="473.48" x2="234.0" y2="473.48" stroke="#888" stroke-width="0.45"/>
<text x="231.90" y="486.00" font-size="6.25" text-anchor="end" fill="#262626">6-Dodecenoylcarnitine</text>
<line x1="232.4" y1="483.90" x2="234.0" y2="483.90" stroke="#888" stroke-width="0.45"/>
<text x="231.90" y="496.42" font-size="6.25" text-anchor="end" fill="#262626">(4Z)-Tetradec-4-enoylcarnitine</text>
<line x1="232.4" y1="494.32" x2="234.0" y2="494.32" stroke="#888" stroke-width="0.45"/>
<text x="231.90" y="506.84" font-size="6.25" text-anchor="end" fill="#262626">4-Methylhexanoylcarnitine</text>
<line x1="232.4" y1="504.74" x2="234.0" y2="504.74" stroke="#888" stroke-width="0.45"/>
<text x="231.90" y="517.26" font-size="6.25" text-anchor="end" fill="#262626">Val-Gly-Val-Ala-Pro-Gly</text>
<line x1="232.4" y1="515.16" x2="234.0" y2="515.16" stroke="#888" stroke-width="0.45"/>
<text x="231.90" y="527.68" font-size="6.25" text-anchor="end" fill="#262626">4-Oxooctanoylcarnitine</text>
<line x1="232.4" y1="525.58" x2="234.0" y2="525.58" stroke="#888" stroke-width="0.45"/>
<text x="231.90" y="538.10" font-size="6.25" text-anchor="end" fill="#262626">Tyrosyl-Proline</text>
<line x1="232.4" y1="536.00" x2="234.0" y2="536.00" stroke="#888" stroke-width="0.45"/>
<text x="231.90" y="548.52" font-size="6.25" text-anchor="end" fill="#262626">O-dodecanedioylcarnitine</text>
<line x1="232.4" y1="546.42" x2="234.0" y2="546.42" stroke="#888" stroke-width="0.45"/>
<text x="231.90" y="558.94" font-size="6.25" text-anchor="end" fill="#262626">Ancistrolikokine D</text>
<line x1="232.4" y1="556.84" x2="234.0" y2="556.84" stroke="#888" stroke-width="0.45"/>
<text x="231.90" y="569.36" font-size="6.25" text-anchor="end" fill="#262626">Hexadecanedioic acid mono-L-carnitine ester</text>
<line x1="232.4" y1="567.26" x2="234.0" y2="567.26" stroke="#888" stroke-width="0.45"/>
<text x="231.90" y="579.78" font-size="6.25" text-anchor="end" fill="#262626">(6Z,9Z)-Hexadecadienoylcarnitine</text>
<line x1="232.4" y1="577.68" x2="234.0" y2="577.68" stroke="#888" stroke-width="0.45"/>
<text x="231.90" y="590.20" font-size="6.25" text-anchor="end" fill="#262626">Hydroxyprolyl-Isoleucine</text>
<line x1="232.4" y1="588.10" x2="234.0" y2="588.10" stroke="#888" stroke-width="0.45"/>
<text x="231.90" y="600.62" font-size="6.25" text-anchor="end" fill="#262626">Glu-Pro</text>
<line x1="232.4" y1="598.52" x2="234.0" y2="598.52" stroke="#888" stroke-width="0.45"/>
<text x="231.90" y="611.04" font-size="6.25" text-anchor="end" fill="#262626">N'-Formylkynurenine</text>
<line x1="232.4" y1="608.94" x2="234.0" y2="608.94" stroke="#888" stroke-width="0.45"/>
<text x="231.90" y="621.46" font-size="6.25" text-anchor="end" fill="#262626">5,6,7,8-Tetrahydro-2,4-dimethylquinoline</text>
<line x1="232.4" y1="619.36" x2="234.0" y2="619.36" stroke="#888" stroke-width="0.45"/>
<text x="231.90" y="631.88" font-size="6.25" text-anchor="end" fill="#262626">(9E)-7-Hydroxydodec-9-enoylcarnitine</text>
<line x1="232.4" y1="629.78" x2="234.0" y2="629.78" stroke="#888" stroke-width="0.45"/>
<line x1="241.00" y1="636.2" x2="241.00" y2="637.8000000000001" stroke="#888" stroke-width="0.45"/>
<text x="0.00" y="0.00" font-size="6.05" text-anchor="end" fill="#262626" transform="translate(243.40,641.80) rotate(-45)">CREB3L3</text>
<line x1="252.13" y1="636.2" x2="252.13" y2="637.8000000000001" stroke="#888" stroke-width="0.45"/>
<text x="0.00" y="0.00" font-size="6.05" text-anchor="end" fill="#262626" transform="translate(254.53,641.80) rotate(-45)">NR1H4</text>
<line x1="263.26" y1="636.2" x2="263.26" y2="637.8000000000001" stroke="#888" stroke-width="0.45"/>
<text x="0.00" y="0.00" font-size="6.05" text-anchor="end" fill="#262626" transform="translate(265.66,641.80) rotate(-45)">THSD4</text>
<line x1="274.39" y1="636.2" x2="274.39" y2="637.8000000000001" stroke="#888" stroke-width="0.45"/>
<text x="0.00" y="0.00" font-size="6.05" text-anchor="end" fill="#262626" transform="translate(276.79,641.80) rotate(-45)">UAP1</text>
<line x1="285.52" y1="636.2" x2="285.52" y2="637.8000000000001" stroke="#888" stroke-width="0.45"/>
<text x="0.00" y="0.00" font-size="6.05" text-anchor="end" fill="#262626" transform="translate(287.92,641.80) rotate(-45)">LOC106033478</text>
<line x1="296.65" y1="636.2" x2="296.65" y2="637.8000000000001" stroke="#888" stroke-width="0.45"/>
<text x="0.00" y="0.00" font-size="6.05" text-anchor="end" fill="#262626" transform="translate(299.05,641.80) rotate(-45)">SLC25A30</text>
<line x1="307.78" y1="636.2" x2="307.78" y2="637.8000000000001" stroke="#888" stroke-width="0.45"/>
<text x="0.00" y="0.00" font-size="6.05" text-anchor="end" fill="#262626" transform="translate(310.18,641.80) rotate(-45)">SHMT1</text>
<line x1="318.91" y1="636.2" x2="318.91" y2="637.8000000000001" stroke="#888" stroke-width="0.45"/>
<text x="0.00" y="0.00" font-size="6.05" text-anchor="end" fill="#262626" transform="translate(321.31,641.80) rotate(-45)">PCK1</text>
<line x1="330.04" y1="636.2" x2="330.04" y2="637.8000000000001" stroke="#888" stroke-width="0.45"/>
<text x="0.00" y="0.00" font-size="6.05" text-anchor="end" fill="#262626" transform="translate(332.44,641.80) rotate(-45)">REPS2</text>
<line x1="341.17" y1="636.2" x2="341.17" y2="637.8000000000001" stroke="#888" stroke-width="0.45"/>
<text x="0.00" y="0.00" font-size="6.05" text-anchor="end" fill="#262626" transform="translate(343.57,641.80) rotate(-45)">CNST</text>
<line x1="352.30" y1="636.2" x2="352.30" y2="637.8000000000001" stroke="#888" stroke-width="0.45"/>
<text x="0.00" y="0.00" font-size="6.05" text-anchor="end" fill="#262626" transform="translate(354.70,641.80) rotate(-45)">CLDN34</text>
<line x1="363.43" y1="636.2" x2="363.43" y2="637.8000000000001" stroke="#888" stroke-width="0.45"/>
<text x="0.00" y="0.00" font-size="6.05" text-anchor="end" fill="#262626" transform="translate(365.83,641.80) rotate(-45)">P2RY4</text>
<line x1="374.56" y1="636.2" x2="374.56" y2="637.8000000000001" stroke="#888" stroke-width="0.45"/>
<text x="0.00" y="0.00" font-size="6.05" text-anchor="end" fill="#262626" transform="translate(376.96,641.80) rotate(-45)">LOC106038206</text>
<line x1="385.69" y1="636.2" x2="385.69" y2="637.8000000000001" stroke="#888" stroke-width="0.45"/>
<text x="0.00" y="0.00" font-size="6.05" text-anchor="end" fill="#262626" transform="translate(388.09,641.80) rotate(-45)">TP53INP2</text>
<line x1="396.82" y1="636.2" x2="396.82" y2="637.8000000000001" stroke="#888" stroke-width="0.45"/>
<text x="0.00" y="0.00" font-size="6.05" text-anchor="end" fill="#262626" transform="translate(399.22,641.80) rotate(-45)">SI</text>
<line x1="407.95" y1="636.2" x2="407.95" y2="637.8000000000001" stroke="#888" stroke-width="0.45"/>
<text x="0.00" y="0.00" font-size="6.05" text-anchor="end" fill="#262626" transform="translate(410.35,641.80) rotate(-45)">KIF26B</text>
<line x1="419.08" y1="636.2" x2="419.08" y2="637.8000000000001" stroke="#888" stroke-width="0.45"/>
<text x="0.00" y="0.00" font-size="6.05" text-anchor="end" fill="#262626" transform="translate(421.48,641.80) rotate(-45)">IQCB1</text>
<line x1="430.21" y1="636.2" x2="430.21" y2="637.8000000000001" stroke="#888" stroke-width="0.45"/>
<text x="0.00" y="0.00" font-size="6.05" text-anchor="end" fill="#262626" transform="translate(432.61,641.80) rotate(-45)">LOC106040193</text>
<line x1="441.34" y1="636.2" x2="441.34" y2="637.8000000000001" stroke="#888" stroke-width="0.45"/>
<text x="0.00" y="0.00" font-size="6.05" text-anchor="end" fill="#262626" transform="translate(443.74,641.80) rotate(-45)">SOX6</text>
<line x1="452.47" y1="636.2" x2="452.47" y2="637.8000000000001" stroke="#888" stroke-width="0.45"/>
<text x="0.00" y="0.00" font-size="6.05" text-anchor="end" fill="#262626" transform="translate(454.87,641.80) rotate(-45)">FLVCR1</text>
<text x="463.90" y="394.60" font-size="5.9" fill="#222">Positive</text>
<text x="463.90" y="401.00" font-size="5.9" fill="#222">correlation</text>
<text x="463.90" y="407.60" font-size="5.9" fill="#222">FDR q-value</text>
<circle cx="467.3" cy="415.30" r="0.75" fill="#ee3030"/>
<text x="473.00" y="417.20" font-size="5.2" fill="#222">&lt;0.0001</text>
<circle cx="467.3" cy="422.53" r="0.75" fill="#f07070"/>
<text x="473.00" y="424.43" font-size="5.2" fill="#222">&lt;0.001</text>
<circle cx="467.3" cy="429.76" r="0.75" fill="#f4a8a8"/>
<text x="473.00" y="431.66" font-size="5.2" fill="#222">&lt;0.01</text>
<circle cx="467.3" cy="436.99" r="0.75" fill="#f8cccc"/>
<text x="473.00" y="438.89" font-size="5.2" fill="#222">&lt;0.05</text>
<circle cx="467.3" cy="444.22" r="0.75" fill="#fbe8e8"/>
<text x="473.00" y="446.12" font-size="5.2" fill="#222">&gt;0.05</text>
<text x="463.90" y="453.00" font-size="5.9" fill="#222">Negtive</text>
<text x="463.90" y="459.60" font-size="5.9" fill="#222">correlation</text>
<text x="463.90" y="466.20" font-size="5.9" fill="#222">FDR q-value</text>
<circle cx="467.3" cy="473.70" r="0.75" fill="#1b2558"/>
<text x="473.00" y="475.60" font-size="5.2" fill="#222">&lt;0.0001</text>
<circle cx="467.3" cy="481.00" r="0.75" fill="#2756a8"/>
<text x="473.00" y="482.90" font-size="5.2" fill="#222">&lt;0.001</text>
<circle cx="467.3" cy="488.30" r="0.75" fill="#3b9fe0"/>
<text x="473.00" y="490.20" font-size="5.2" fill="#222">&lt;0.01</text>
<circle cx="467.3" cy="495.60" r="0.75" fill="#80c4ea"/>
<text x="473.00" y="497.50" font-size="5.2" fill="#222">&lt;0.05</text>
<circle cx="467.3" cy="502.90" r="0.75" fill="#d6d6d6"/>
<text x="473.00" y="504.80" font-size="5.2" fill="#222">&gt;0.05</text>
<text x="463.90" y="523.70" font-size="5.9" fill="#222">Spearman's ρ</text>
<circle cx="467.3" cy="531.10" r="1.3" fill="#000"/>
<text x="473.00" y="533.00" font-size="5.2" fill="#222">0.5</text>
<circle cx="467.3" cy="538.32" r="1.95" fill="#000"/>
<text x="473.00" y="540.22" font-size="5.2" fill="#222">0.6</text>
<circle cx="467.3" cy="545.54" r="2.3" fill="#000"/>
<text x="473.00" y="547.44" font-size="5.2" fill="#222">0.7</text>
<circle cx="467.3" cy="552.76" r="2.55" fill="#000"/>
<text x="473.00" y="554.66" font-size="5.2" fill="#222">0.8</text>
<circle cx="467.3" cy="559.98" r="2.85" fill="#000"/>
<text x="473.00" y="561.88" font-size="5.2" fill="#222">0.9</text>
</svg>
</body></html>
